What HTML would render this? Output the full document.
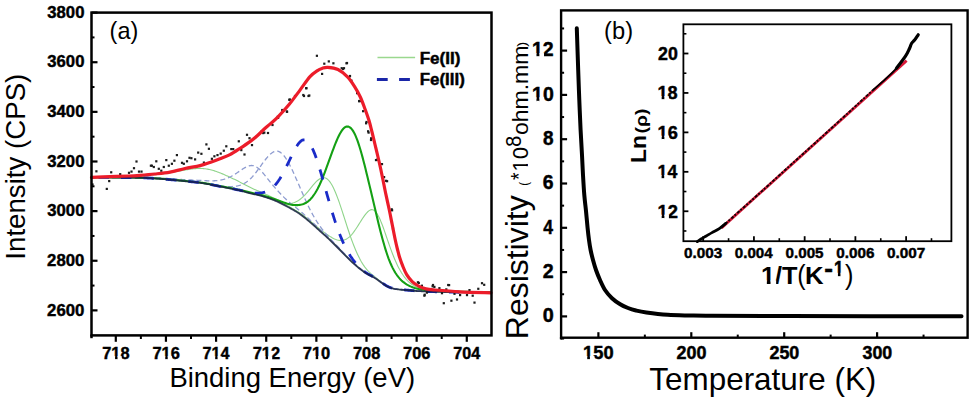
<!DOCTYPE html>
<html><head><meta charset="utf-8"><style>
html,body{margin:0;padding:0;background:#fff;}
svg{display:block;font-family:"Liberation Sans",sans-serif;}
</style></head><body>
<svg width="975" height="399" viewBox="0 0 975 399" font-family="Liberation Sans, sans-serif">
<rect width="975" height="399" fill="#fff"/>
<g fill="none" stroke-linejoin="round">
<path d="M92.50,177.01 L93.50,177.00 L94.50,176.99 L95.50,176.99 L96.50,176.98 L97.50,176.98 L98.50,176.97 L99.50,176.96 L100.50,176.96 L101.50,176.95 L102.50,176.94 L103.50,176.94 L104.50,176.93 L105.50,176.92 L106.50,176.91 L107.50,176.90 L108.50,176.90 L109.50,176.89 L110.50,176.88 L111.50,176.87 L112.50,176.86 L113.50,176.85 L114.50,176.83 L115.50,176.82 L116.50,176.81 L117.50,176.79 L118.50,176.78 L119.50,176.76 L120.50,176.74 L121.50,176.72 L122.50,176.70 L123.50,176.68 L124.50,176.65 L125.50,176.63 L126.50,176.60 L127.50,176.57 L128.50,176.53 L129.50,176.50 L130.50,176.46 L131.50,176.42 L132.50,176.38 L133.50,176.33 L134.50,176.28 L135.50,176.23 L136.50,176.17 L137.50,176.11 L138.50,176.05 L139.50,175.98 L140.50,175.91 L141.50,175.83 L142.50,175.76 L143.50,175.69 L144.50,175.62 L145.50,175.54 L146.50,175.47 L147.50,175.39 L148.50,175.31 L149.50,175.23 L150.50,175.14 L151.50,175.05 L152.50,174.95 L153.50,174.86 L154.50,174.75 L155.50,174.64 L156.50,174.53 L157.50,174.41 L158.50,174.28 L159.50,174.15 L160.50,174.02 L161.50,173.89 L162.50,173.76 L163.50,173.63 L164.50,173.50 L165.50,173.36 L166.50,173.22 L167.50,173.08 L168.50,172.92 L169.50,172.77 L170.50,172.61 L171.50,172.44 L172.50,172.27 L173.50,172.10 L174.50,171.92 L175.50,171.75 L176.50,171.57 L177.50,171.39 L178.50,171.21 L179.50,171.03 L180.50,170.85 L181.50,170.67 L182.50,170.50 L183.50,170.32 L184.50,170.15 L185.50,169.98 L186.50,169.81 L187.50,169.64 L188.50,169.48 L189.50,169.33 L190.50,169.18 L191.50,169.04 L192.50,168.91 L193.50,168.79 L194.50,168.69 L195.50,168.60 L196.50,168.52 L197.50,168.47 L198.50,168.43 L199.50,168.41 L200.50,168.41 L201.50,168.44 L202.50,168.50 L203.50,168.58 L204.50,168.69 L205.50,168.82 L206.50,168.97 L207.50,169.14 L208.50,169.34 L209.50,169.55 L210.50,169.79 L211.50,170.04 L212.50,170.30 L213.50,170.58 L214.50,170.89 L215.50,171.21 L216.50,171.54 L217.50,171.90 L218.50,172.27 L219.50,172.65 L220.50,173.05 L221.50,173.46 L222.50,173.88 L223.50,174.31 L224.50,174.74 L225.50,175.19 L226.50,175.64 L227.50,176.09 L228.50,176.54 L229.50,177.00 L230.50,177.47 L231.50,177.93 L232.50,178.41 L233.50,178.89 L234.50,179.37 L235.50,179.86 L236.50,180.35 L237.50,180.85 L238.50,181.36 L239.50,181.88 L240.50,182.40 L241.50,182.93 L242.50,183.46 L243.50,183.99 L244.50,184.51 L245.50,185.04 L246.50,185.56 L247.50,186.07 L248.50,186.58 L249.50,187.08 L250.50,187.56 L251.50,188.03 L252.50,188.49 L253.50,188.94 L254.50,189.39 L255.50,189.82 L256.50,190.25 L257.50,190.68 L258.50,191.11 L259.50,191.53 L260.50,191.96 L261.50,192.40 L262.50,192.84 L263.50,193.28 L264.50,193.73 L265.50,194.19 L266.50,194.65 L267.50,195.11 L268.50,195.58 L269.50,196.06 L270.50,196.53 L271.50,197.01 L272.50,197.50 L273.50,197.99 L274.50,198.48 L275.50,198.98 L276.50,199.49 L277.50,200.01 L278.50,200.54 L279.50,201.09 L280.50,201.64 L281.50,202.20 L282.50,202.76 L283.50,203.33 L284.50,203.91 L285.50,204.49 L286.50,205.07 L287.50,205.66 L288.50,206.25 L289.50,206.84 L290.50,207.42 L291.50,208.01 L292.50,208.61 L293.50,209.21 L294.50,209.82 L295.50,210.44 L296.50,211.07 L297.50,211.72 L298.50,212.39 L299.50,213.07 L300.50,213.78 L301.50,214.52 L302.50,215.29 L303.50,216.09 L304.50,216.90 L305.50,217.74 L306.50,218.58 L307.50,219.44 L308.50,220.30 L309.50,221.16 L310.50,222.02 L311.50,222.89 L312.50,223.77 L313.50,224.67 L314.50,225.57 L315.50,226.48 L316.50,227.40 L317.50,228.31 L318.50,229.23 L319.50,230.14 L320.50,231.05 L321.50,231.96 L322.50,232.86 L323.50,233.76 L324.50,234.67 L325.50,235.58 L326.50,236.49 L327.50,237.41 L328.50,238.34 L329.50,239.28 L330.50,240.24 L331.50,241.20 L332.50,242.18 L333.50,243.17 L334.50,244.17 L335.50,245.17 L336.50,246.18 L337.50,247.19 L338.50,248.20 L339.50,249.20 L340.50,250.20 L341.50,251.22 L342.50,252.25 L343.50,253.28 L344.50,254.32 L345.50,255.36 L346.50,256.40 L347.50,257.42 L348.50,258.44 L349.50,259.43 L350.50,260.41 L351.50,261.35 L352.50,262.27 L353.50,263.16 L354.50,264.05 L355.50,264.92 L356.50,265.79 L357.50,266.64 L358.50,267.48 L359.50,268.29 L360.50,269.09 L361.50,269.86 L362.50,270.61 L363.50,271.33 L364.50,272.02 L365.50,272.68 L366.50,273.29 L367.50,273.86 L368.50,274.40 L369.50,274.93 L370.50,275.44 L371.50,275.95 L372.50,276.48 L373.50,277.03 L374.50,277.60 L375.50,278.23 L376.50,278.90 L377.50,279.60 L378.50,280.33 L379.50,281.05 L380.50,281.77 L381.50,282.46 L382.50,283.12 L383.50,283.80 L384.50,284.48 L385.50,285.15 L386.50,285.77 L387.50,286.34 L388.50,286.81 L389.50,287.21 L390.50,287.58 L391.50,287.92 L392.50,288.22 L393.50,288.50 L394.50,288.73 L395.50,288.92 L396.50,289.06 L397.50,289.20 L398.50,289.32 L399.50,289.43 L400.50,289.53 L401.50,289.63 L402.50,289.71 L403.50,289.80 L404.50,289.88 L405.50,289.95 L406.50,290.03 L407.50,290.11 L408.50,290.18 L409.50,290.27 L410.50,290.35 L411.50,290.44 L412.50,290.53 L413.50,290.61 L414.50,290.70 L415.50,290.78 L416.50,290.86 L417.50,290.93 L418.50,290.99 L419.50,291.05 L420.50,291.10 L421.50,291.15 L422.50,291.20 L423.50,291.25 L424.50,291.29 L425.50,291.34 L426.50,291.38 L427.50,291.42 L428.50,291.46 L429.50,291.49 L430.50,291.53 L431.50,291.56 L432.50,291.60 L433.50,291.63 L434.50,291.66 L435.50,291.69 L436.50,291.71 L437.50,291.74 L438.50,291.76 L439.50,291.79 L440.50,291.81 L441.50,291.83 L442.50,291.85 L443.50,291.87 L444.50,291.90 L445.50,291.92 L446.50,291.94 L447.50,291.96 L448.50,291.98 L449.50,292.00 L450.50,292.02 L451.50,292.04 L452.50,292.06 L453.50,292.08 L454.50,292.10 L455.50,292.12 L456.50,292.14 L457.50,292.16 L458.50,292.18 L459.50,292.20 L460.50,292.21 L461.50,292.23 L462.50,292.25 L463.50,292.27 L464.50,292.28 L465.50,292.30 L466.50,292.31 L467.50,292.33 L468.50,292.34 L469.50,292.36 L470.50,292.37 L471.50,292.39 L472.50,292.40 L473.50,292.41 L474.50,292.42 L475.50,292.43 L476.50,292.45 L477.50,292.46 L478.50,292.47 L479.50,292.47 L480.50,292.48 L481.50,292.49 L482.50,292.50 L483.50,292.50 L484.50,292.51 L485.50,292.52 L486.50,292.52 L487.50,292.52 L488.50,292.53 L489.50,292.53 L490.50,292.53" stroke="#8fd48a" stroke-width="1.1"/>
<path d="M92.50,177.40 L93.50,177.40 L94.50,177.40 L95.50,177.40 L96.50,177.40 L97.50,177.41 L98.50,177.41 L99.50,177.41 L100.50,177.41 L101.50,177.42 L102.50,177.42 L103.50,177.43 L104.50,177.43 L105.50,177.44 L106.50,177.44 L107.50,177.45 L108.50,177.45 L109.50,177.46 L110.50,177.46 L111.50,177.47 L112.50,177.48 L113.50,177.49 L114.50,177.49 L115.50,177.50 L116.50,177.51 L117.50,177.52 L118.50,177.53 L119.50,177.54 L120.50,177.55 L121.50,177.56 L122.50,177.57 L123.50,177.58 L124.50,177.59 L125.50,177.60 L126.50,177.61 L127.50,177.63 L128.50,177.64 L129.50,177.65 L130.50,177.66 L131.50,177.68 L132.50,177.69 L133.50,177.70 L134.50,177.72 L135.50,177.73 L136.50,177.75 L137.50,177.76 L138.50,177.78 L139.50,177.79 L140.50,177.81 L141.50,177.83 L142.50,177.85 L143.50,177.88 L144.50,177.92 L145.50,177.96 L146.50,178.00 L147.50,178.04 L148.50,178.09 L149.50,178.14 L150.50,178.20 L151.50,178.25 L152.50,178.31 L153.50,178.37 L154.50,178.43 L155.50,178.49 L156.50,178.55 L157.50,178.62 L158.50,178.68 L159.50,178.75 L160.50,178.82 L161.50,178.90 L162.50,178.98 L163.50,179.07 L164.50,179.16 L165.50,179.26 L166.50,179.35 L167.50,179.45 L168.50,179.55 L169.50,179.64 L170.50,179.74 L171.50,179.83 L172.50,179.93 L173.50,180.02 L174.50,180.12 L175.50,180.22 L176.50,180.32 L177.50,180.42 L178.50,180.52 L179.50,180.62 L180.50,180.73 L181.50,180.83 L182.50,180.93 L183.50,181.03 L184.50,181.14 L185.50,181.24 L186.50,181.34 L187.50,181.44 L188.50,181.54 L189.50,181.64 L190.50,181.74 L191.50,181.84 L192.50,181.94 L193.50,182.04 L194.50,182.15 L195.50,182.25 L196.50,182.37 L197.50,182.48 L198.50,182.61 L199.50,182.73 L200.50,182.87 L201.50,183.01 L202.50,183.17 L203.50,183.33 L204.50,183.50 L205.50,183.68 L206.50,183.86 L207.50,184.05 L208.50,184.24 L209.50,184.43 L210.50,184.62 L211.50,184.81 L212.50,185.00 L213.50,185.19 L214.50,185.38 L215.50,185.57 L216.50,185.77 L217.50,185.97 L218.50,186.17 L219.50,186.37 L220.50,186.57 L221.50,186.78 L222.50,186.98 L223.50,187.18 L224.50,187.38 L225.50,187.58 L226.50,187.78 L227.50,187.97 L228.50,188.16 L229.50,188.35 L230.50,188.55 L231.50,188.74 L232.50,188.94 L233.50,189.13 L234.50,189.34 L235.50,189.54 L236.50,189.76 L237.50,189.98 L238.50,190.21 L239.50,190.44 L240.50,190.69 L241.50,190.94 L242.50,191.20 L243.50,191.47 L244.50,191.73 L245.50,192.00 L246.50,192.26 L247.50,192.53 L248.50,192.79 L249.50,193.05 L250.50,193.30 L251.50,193.54 L252.50,193.78 L253.50,194.01 L254.50,194.24 L255.50,194.47 L256.50,194.71 L257.50,194.94 L258.50,195.18 L259.50,195.42 L260.50,195.68 L261.50,195.94 L262.50,196.21 L263.50,196.50 L264.50,196.79 L265.50,197.09 L266.50,197.40 L267.50,197.72 L268.50,198.04 L269.50,198.36 L270.50,198.69 L271.50,199.03 L272.50,199.36 L273.50,199.70 L274.50,200.03 L275.50,200.36 L276.50,200.70 L277.50,201.03 L278.50,201.36 L279.50,201.68 L280.50,201.99 L281.50,202.28 L282.50,202.56 L283.50,202.81 L284.50,203.03 L285.50,203.22 L286.50,203.36 L287.50,203.46 L288.50,203.51 L289.50,203.51 L290.50,203.44 L291.50,203.30 L292.50,203.10 L293.50,202.84 L294.50,202.50 L295.50,202.09 L296.50,201.61 L297.50,201.05 L298.50,200.42 L299.50,199.72 L300.50,198.96 L301.50,198.14 L302.50,197.26 L303.50,196.32 L304.50,195.33 L305.50,194.28 L306.50,193.17 L307.50,192.02 L308.50,190.83 L309.50,189.61 L310.50,188.36 L311.50,187.11 L312.50,185.88 L313.50,184.69 L314.50,183.54 L315.50,182.46 L316.50,181.45 L317.50,180.52 L318.50,179.71 L319.50,179.01 L320.50,178.44 L321.50,178.02 L322.50,177.75 L323.50,177.67 L324.50,177.77 L325.50,178.06 L326.50,178.57 L327.50,179.28 L328.50,180.20 L329.50,181.35 L330.50,182.70 L331.50,184.27 L332.50,186.05 L333.50,188.02 L334.50,190.17 L335.50,192.50 L336.50,194.97 L337.50,197.58 L338.50,200.31 L339.50,203.14 L340.50,206.06 L341.50,209.06 L342.50,212.12 L343.50,215.23 L344.50,218.37 L345.50,221.51 L346.50,224.64 L347.50,227.73 L348.50,230.78 L349.50,233.76 L350.50,236.66 L351.50,239.47 L352.50,242.18 L353.50,244.78 L354.50,247.29 L355.50,249.70 L356.50,252.02 L357.50,254.22 L358.50,256.32 L359.50,258.32 L360.50,260.20 L361.50,261.97 L362.50,263.63 L363.50,265.18 L364.50,266.63 L365.50,267.97 L366.50,269.19 L367.50,270.31 L368.50,271.34 L369.50,272.30 L370.50,273.20 L371.50,274.06 L372.50,274.88 L373.50,275.69 L374.50,276.49 L375.50,277.31 L376.50,278.15 L377.50,279.00 L378.50,279.85 L379.50,280.69 L380.50,281.49 L381.50,282.26 L382.50,282.98 L383.50,283.71 L384.50,284.44 L385.50,285.14 L386.50,285.80 L387.50,286.39 L388.50,286.88 L389.50,287.29 L390.50,287.68 L391.50,288.03 L392.50,288.34 L393.50,288.62 L394.50,288.86 L395.50,289.05 L396.50,289.20 L397.50,289.34 L398.50,289.46 L399.50,289.57 L400.50,289.67 L401.50,289.77 L402.50,289.85 L403.50,289.94 L404.50,290.01 L405.50,290.09 L406.50,290.16 L407.50,290.24 L408.50,290.32 L409.50,290.40 L410.50,290.48 L411.50,290.57 L412.50,290.66 L413.50,290.74 L414.50,290.82 L415.50,290.90 L416.50,290.98 L417.50,291.05 L418.50,291.12 L419.50,291.17 L420.50,291.22 L421.50,291.27 L422.50,291.32 L423.50,291.37 L424.50,291.41 L425.50,291.45 L426.50,291.49 L427.50,291.53 L428.50,291.57 L429.50,291.60 L430.50,291.64 L431.50,291.67 L432.50,291.70 L433.50,291.74 L434.50,291.76 L435.50,291.79 L436.50,291.82 L437.50,291.84 L438.50,291.87 L439.50,291.89 L440.50,291.91 L441.50,291.93 L442.50,291.95 L443.50,291.97 L444.50,291.99 L445.50,292.01 L446.50,292.03 L447.50,292.05 L448.50,292.07 L449.50,292.09 L450.50,292.11 L451.50,292.13 L452.50,292.15 L453.50,292.17 L454.50,292.19 L455.50,292.21 L456.50,292.23 L457.50,292.25 L458.50,292.27 L459.50,292.28 L460.50,292.30 L461.50,292.32 L462.50,292.33 L463.50,292.35 L464.50,292.37 L465.50,292.38 L466.50,292.40 L467.50,292.41 L468.50,292.42 L469.50,292.44 L470.50,292.45 L471.50,292.46 L472.50,292.48 L473.50,292.49 L474.50,292.50 L475.50,292.51 L476.50,292.52 L477.50,292.53 L478.50,292.54 L479.50,292.55 L480.50,292.56 L481.50,292.56 L482.50,292.57 L483.50,292.58 L484.50,292.58 L485.50,292.59 L486.50,292.59 L487.50,292.59 L488.50,292.60 L489.50,292.60 L490.50,292.60" stroke="#8fd48a" stroke-width="1.1"/>
<path d="M92.50,177.34 L93.50,177.34 L94.50,177.34 L95.50,177.34 L96.50,177.34 L97.50,177.34 L98.50,177.34 L99.50,177.34 L100.50,177.35 L101.50,177.35 L102.50,177.35 L103.50,177.36 L104.50,177.36 L105.50,177.37 L106.50,177.37 L107.50,177.37 L108.50,177.38 L109.50,177.39 L110.50,177.39 L111.50,177.40 L112.50,177.40 L113.50,177.41 L114.50,177.42 L115.50,177.43 L116.50,177.43 L117.50,177.44 L118.50,177.45 L119.50,177.46 L120.50,177.47 L121.50,177.48 L122.50,177.49 L123.50,177.50 L124.50,177.51 L125.50,177.52 L126.50,177.53 L127.50,177.54 L128.50,177.55 L129.50,177.57 L130.50,177.58 L131.50,177.59 L132.50,177.60 L133.50,177.62 L134.50,177.63 L135.50,177.64 L136.50,177.66 L137.50,177.67 L138.50,177.69 L139.50,177.70 L140.50,177.72 L141.50,177.74 L142.50,177.76 L143.50,177.79 L144.50,177.82 L145.50,177.86 L146.50,177.90 L147.50,177.94 L148.50,177.99 L149.50,178.04 L150.50,178.09 L151.50,178.15 L152.50,178.21 L153.50,178.26 L154.50,178.32 L155.50,178.38 L156.50,178.45 L157.50,178.51 L158.50,178.57 L159.50,178.64 L160.50,178.71 L161.50,178.79 L162.50,178.87 L163.50,178.96 L164.50,179.05 L165.50,179.14 L166.50,179.24 L167.50,179.33 L168.50,179.43 L169.50,179.52 L170.50,179.62 L171.50,179.71 L172.50,179.80 L173.50,179.90 L174.50,180.00 L175.50,180.09 L176.50,180.19 L177.50,180.29 L178.50,180.39 L179.50,180.49 L180.50,180.59 L181.50,180.69 L182.50,180.79 L183.50,180.90 L184.50,181.00 L185.50,181.10 L186.50,181.20 L187.50,181.30 L188.50,181.39 L189.50,181.49 L190.50,181.59 L191.50,181.69 L192.50,181.78 L193.50,181.89 L194.50,181.99 L195.50,182.10 L196.50,182.21 L197.50,182.32 L198.50,182.44 L199.50,182.57 L200.50,182.70 L201.50,182.84 L202.50,183.00 L203.50,183.16 L204.50,183.33 L205.50,183.50 L206.50,183.68 L207.50,183.87 L208.50,184.06 L209.50,184.24 L210.50,184.43 L211.50,184.62 L212.50,184.81 L213.50,184.99 L214.50,185.18 L215.50,185.37 L216.50,185.57 L217.50,185.76 L218.50,185.96 L219.50,186.16 L220.50,186.36 L221.50,186.56 L222.50,186.76 L223.50,186.96 L224.50,187.16 L225.50,187.35 L226.50,187.54 L227.50,187.74 L228.50,187.92 L229.50,188.11 L230.50,188.30 L231.50,188.49 L232.50,188.68 L233.50,188.88 L234.50,189.08 L235.50,189.28 L236.50,189.49 L237.50,189.71 L238.50,189.93 L239.50,190.17 L240.50,190.41 L241.50,190.66 L242.50,190.91 L243.50,191.17 L244.50,191.43 L245.50,191.70 L246.50,191.96 L247.50,192.22 L248.50,192.47 L249.50,192.73 L250.50,192.97 L251.50,193.21 L252.50,193.44 L253.50,193.67 L254.50,193.90 L255.50,194.12 L256.50,194.35 L257.50,194.58 L258.50,194.82 L259.50,195.06 L260.50,195.31 L261.50,195.57 L262.50,195.84 L263.50,196.13 L264.50,196.42 L265.50,196.73 L266.50,197.05 L267.50,197.37 L268.50,197.71 L269.50,198.05 L270.50,198.41 L271.50,198.77 L272.50,199.14 L273.50,199.52 L274.50,199.92 L275.50,200.32 L276.50,200.73 L277.50,201.16 L278.50,201.61 L279.50,202.06 L280.50,202.53 L281.50,203.02 L282.50,203.51 L283.50,204.01 L284.50,204.52 L285.50,205.03 L286.50,205.56 L287.50,206.08 L288.50,206.61 L289.50,207.14 L290.50,207.68 L291.50,208.21 L292.50,208.76 L293.50,209.31 L294.50,209.87 L295.50,210.44 L296.50,211.03 L297.50,211.63 L298.50,212.25 L299.50,212.89 L300.50,213.56 L301.50,214.25 L302.50,214.98 L303.50,215.73 L304.50,216.50 L305.50,217.29 L306.50,218.09 L307.50,218.90 L308.50,219.71 L309.50,220.52 L310.50,221.33 L311.50,222.15 L312.50,222.97 L313.50,223.81 L314.50,224.65 L315.50,225.49 L316.50,226.33 L317.50,227.17 L318.50,228.00 L319.50,228.81 L320.50,229.62 L321.50,230.41 L322.50,231.18 L323.50,231.94 L324.50,232.68 L325.50,233.40 L326.50,234.11 L327.50,234.80 L328.50,235.47 L329.50,236.12 L330.50,236.75 L331.50,237.34 L332.50,237.91 L333.50,238.44 L334.50,238.92 L335.50,239.35 L336.50,239.71 L337.50,240.01 L338.50,240.24 L339.50,240.38 L340.50,240.44 L341.50,240.42 L342.50,240.32 L343.50,240.13 L344.50,239.85 L345.50,239.47 L346.50,238.98 L347.50,238.37 L348.50,237.66 L349.50,236.82 L350.50,235.87 L351.50,234.79 L352.50,233.60 L353.50,232.31 L354.50,230.93 L355.50,229.50 L356.50,228.00 L357.50,226.46 L358.50,224.88 L359.50,223.29 L360.50,221.69 L361.50,220.11 L362.50,218.57 L363.50,217.07 L364.50,215.65 L365.50,214.33 L366.50,213.11 L367.50,212.02 L368.50,211.10 L369.50,210.38 L370.50,209.89 L371.50,209.64 L372.50,209.68 L373.50,210.01 L374.50,210.64 L375.50,211.60 L376.50,212.87 L377.50,214.44 L378.50,216.27 L379.50,218.33 L380.50,220.59 L381.50,223.01 L382.50,225.56 L383.50,228.28 L384.50,231.12 L385.50,234.03 L386.50,236.97 L387.50,239.90 L388.50,242.78 L389.50,245.58 L390.50,248.35 L391.50,251.07 L392.50,253.71 L393.50,256.27 L394.50,258.73 L395.50,261.06 L396.50,263.28 L397.50,265.39 L398.50,267.39 L399.50,269.29 L400.50,271.07 L401.50,272.74 L402.50,274.31 L403.50,275.76 L404.50,277.12 L405.50,278.37 L406.50,279.53 L407.50,280.59 L408.50,281.58 L409.50,282.48 L410.50,283.31 L411.50,284.07 L412.50,284.76 L413.50,285.39 L414.50,285.96 L415.50,286.48 L416.50,286.94 L417.50,287.36 L418.50,287.73 L419.50,288.06 L420.50,288.35 L421.50,288.62 L422.50,288.85 L423.50,289.06 L424.50,289.26 L425.50,289.43 L426.50,289.59 L427.50,289.73 L428.50,289.86 L429.50,289.98 L430.50,290.09 L431.50,290.19 L432.50,290.29 L433.50,290.37 L434.50,290.46 L435.50,290.53 L436.50,290.60 L437.50,290.67 L438.50,290.73 L439.50,290.79 L440.50,290.84 L441.50,290.89 L442.50,290.94 L443.50,290.99 L444.50,291.04 L445.50,291.09 L446.50,291.13 L447.50,291.17 L448.50,291.22 L449.50,291.26 L450.50,291.30 L451.50,291.34 L452.50,291.38 L453.50,291.41 L454.50,291.45 L455.50,291.49 L456.50,291.52 L457.50,291.56 L458.50,291.59 L459.50,291.62 L460.50,291.65 L461.50,291.68 L462.50,291.71 L463.50,291.74 L464.50,291.77 L465.50,291.80 L466.50,291.83 L467.50,291.85 L468.50,291.88 L469.50,291.90 L470.50,291.93 L471.50,291.95 L472.50,291.97 L473.50,291.99 L474.50,292.02 L475.50,292.04 L476.50,292.05 L477.50,292.07 L478.50,292.09 L479.50,292.11 L480.50,292.12 L481.50,292.14 L482.50,292.15 L483.50,292.17 L484.50,292.18 L485.50,292.19 L486.50,292.20 L487.50,292.21 L488.50,292.22 L489.50,292.23 L490.50,292.24" stroke="#8fd48a" stroke-width="1.1"/>
<path d="M92.50,177.34 L93.50,177.34 L94.50,177.34 L95.50,177.34 L96.50,177.35 L97.50,177.35 L98.50,177.35 L99.50,177.35 L100.50,177.35 L101.50,177.36 L102.50,177.36 L103.50,177.36 L104.50,177.37 L105.50,177.37 L106.50,177.38 L107.50,177.38 L108.50,177.38 L109.50,177.39 L110.50,177.40 L111.50,177.40 L112.50,177.41 L113.50,177.42 L114.50,177.42 L115.50,177.43 L116.50,177.44 L117.50,177.45 L118.50,177.45 L119.50,177.46 L120.50,177.47 L121.50,177.48 L122.50,177.49 L123.50,177.50 L124.50,177.51 L125.50,177.52 L126.50,177.53 L127.50,177.54 L128.50,177.55 L129.50,177.56 L130.50,177.58 L131.50,177.59 L132.50,177.60 L133.50,177.61 L134.50,177.62 L135.50,177.64 L136.50,177.65 L137.50,177.66 L138.50,177.68 L139.50,177.69 L140.50,177.71 L141.50,177.73 L142.50,177.75 L143.50,177.78 L144.50,177.81 L145.50,177.85 L146.50,177.89 L147.50,177.93 L148.50,177.98 L149.50,178.03 L150.50,178.08 L151.50,178.13 L152.50,178.19 L153.50,178.25 L154.50,178.30 L155.50,178.36 L156.50,178.43 L157.50,178.49 L158.50,178.55 L159.50,178.61 L160.50,178.68 L161.50,178.76 L162.50,178.84 L163.50,178.93 L164.50,179.02 L165.50,179.11 L166.50,179.20 L167.50,179.30 L168.50,179.39 L169.50,179.48 L170.50,179.58 L171.50,179.67 L172.50,179.76 L173.50,179.85 L174.50,179.95 L175.50,180.04 L176.50,180.14 L177.50,180.24 L178.50,180.33 L179.50,180.43 L180.50,180.53 L181.50,180.63 L182.50,180.73 L183.50,180.83 L184.50,180.93 L185.50,181.03 L186.50,181.12 L187.50,181.22 L188.50,181.31 L189.50,181.41 L190.50,181.50 L191.50,181.59 L192.50,181.69 L193.50,181.78 L194.50,181.88 L195.50,181.99 L196.50,182.09 L197.50,182.20 L198.50,182.32 L199.50,182.44 L200.50,182.57 L201.50,182.70 L202.50,182.85 L203.50,183.00 L204.50,183.17 L205.50,183.33 L206.50,183.50 L207.50,183.68 L208.50,183.85 L209.50,184.03 L210.50,184.20 L211.50,184.38 L212.50,184.54 L213.50,184.71 L214.50,184.88 L215.50,185.04 L216.50,185.21 L217.50,185.37 L218.50,185.53 L219.50,185.68 L220.50,185.83 L221.50,185.97 L222.50,186.10 L223.50,186.22 L224.50,186.33 L225.50,186.43 L226.50,186.50 L227.50,186.56 L228.50,186.60 L229.50,186.62 L230.50,186.62 L231.50,186.60 L232.50,186.55 L233.50,186.47 L234.50,186.37 L235.50,186.23 L236.50,186.06 L237.50,185.86 L238.50,185.62 L239.50,185.35 L240.50,185.03 L241.50,184.67 L242.50,184.25 L243.50,183.78 L244.50,183.26 L245.50,182.67 L246.50,182.02 L247.50,181.30 L248.50,180.51 L249.50,179.65 L250.50,178.72 L251.50,177.72 L252.50,176.65 L253.50,175.51 L254.50,174.31 L255.50,173.06 L256.50,171.77 L257.50,170.43 L258.50,169.07 L259.50,167.68 L260.50,166.28 L261.50,164.88 L262.50,163.49 L263.50,162.12 L264.50,160.78 L265.50,159.48 L266.50,158.23 L267.50,157.05 L268.50,155.94 L269.50,154.91 L270.50,153.99 L271.50,153.18 L272.50,152.49 L273.50,151.93 L274.50,151.51 L275.50,151.24 L276.50,151.13 L277.50,151.19 L278.50,151.42 L279.50,151.83 L280.50,152.41 L281.50,153.16 L282.50,154.07 L283.50,155.15 L284.50,156.38 L285.50,157.76 L286.50,159.27 L287.50,160.91 L288.50,162.66 L289.50,164.51 L290.50,166.46 L291.50,168.48 L292.50,170.57 L293.50,172.72 L294.50,174.91 L295.50,177.15 L296.50,179.42 L297.50,181.72 L298.50,184.03 L299.50,186.34 L300.50,188.66 L301.50,190.98 L302.50,193.30 L303.50,195.59 L304.50,197.86 L305.50,200.10 L306.50,202.29 L307.50,204.42 L308.50,206.50 L309.50,208.52 L310.50,210.47 L311.50,212.36 L312.50,214.21 L313.50,215.99 L314.50,217.73 L315.50,219.41 L316.50,221.03 L317.50,222.60 L318.50,224.11 L319.50,225.57 L320.50,226.98 L321.50,228.33 L322.50,229.64 L323.50,230.91 L324.50,232.15 L325.50,233.35 L326.50,234.52 L327.50,235.68 L328.50,236.82 L329.50,237.94 L330.50,239.06 L331.50,240.17 L332.50,241.27 L333.50,242.37 L334.50,243.46 L335.50,244.55 L336.50,245.63 L337.50,246.70 L338.50,247.77 L339.50,248.82 L340.50,249.86 L341.50,250.92 L342.50,251.97 L343.50,253.04 L344.50,254.10 L345.50,255.16 L346.50,256.22 L347.50,257.26 L348.50,258.29 L349.50,259.30 L350.50,260.28 L351.50,261.24 L352.50,262.16 L353.50,263.06 L354.50,263.95 L355.50,264.84 L356.50,265.71 L357.50,266.57 L358.50,267.41 L359.50,268.23 L360.50,269.03 L361.50,269.81 L362.50,270.56 L363.50,271.28 L364.50,271.98 L365.50,272.64 L366.50,273.25 L367.50,273.83 L368.50,274.37 L369.50,274.90 L370.50,275.41 L371.50,275.93 L372.50,276.46 L373.50,277.00 L374.50,277.59 L375.50,278.21 L376.50,278.88 L377.50,279.59 L378.50,280.32 L379.50,281.05 L380.50,281.76 L381.50,282.45 L382.50,283.12 L383.50,283.80 L384.50,284.48 L385.50,285.15 L386.50,285.77 L387.50,286.34 L388.50,286.82 L389.50,287.21 L390.50,287.58 L391.50,287.92 L392.50,288.23 L393.50,288.51 L394.50,288.74 L395.50,288.93 L396.50,289.08 L397.50,289.21 L398.50,289.33 L399.50,289.44 L400.50,289.55 L401.50,289.64 L402.50,289.73 L403.50,289.81 L404.50,289.89 L405.50,289.97 L406.50,290.05 L407.50,290.12 L408.50,290.20 L409.50,290.29 L410.50,290.37 L411.50,290.46 L412.50,290.55 L413.50,290.63 L414.50,290.72 L415.50,290.80 L416.50,290.88 L417.50,290.95 L418.50,291.02 L419.50,291.07 L420.50,291.13 L421.50,291.18 L422.50,291.22 L423.50,291.27 L424.50,291.32 L425.50,291.36 L426.50,291.40 L427.50,291.44 L428.50,291.48 L429.50,291.52 L430.50,291.55 L431.50,291.59 L432.50,291.62 L433.50,291.65 L434.50,291.68 L435.50,291.71 L436.50,291.74 L437.50,291.77 L438.50,291.79 L439.50,291.81 L440.50,291.83 L441.50,291.86 L442.50,291.88 L443.50,291.90 L444.50,291.92 L445.50,291.94 L446.50,291.96 L447.50,291.99 L448.50,292.01 L449.50,292.03 L450.50,292.05 L451.50,292.07 L452.50,292.09 L453.50,292.11 L454.50,292.13 L455.50,292.15 L456.50,292.17 L457.50,292.19 L458.50,292.20 L459.50,292.22 L460.50,292.24 L461.50,292.26 L462.50,292.27 L463.50,292.29 L464.50,292.31 L465.50,292.32 L466.50,292.34 L467.50,292.35 L468.50,292.37 L469.50,292.38 L470.50,292.40 L471.50,292.41 L472.50,292.42 L473.50,292.44 L474.50,292.45 L475.50,292.46 L476.50,292.47 L477.50,292.48 L478.50,292.49 L479.50,292.50 L480.50,292.51 L481.50,292.52 L482.50,292.52 L483.50,292.53 L484.50,292.53 L485.50,292.54 L486.50,292.54 L487.50,292.55 L488.50,292.55 L489.50,292.55 L490.50,292.56" stroke="#8e9cd0" stroke-width="1.3" stroke-dasharray="5 3"/>
<path d="M92.50,177.11 L93.50,177.11 L94.50,177.10 L95.50,177.10 L96.50,177.10 L97.50,177.10 L98.50,177.10 L99.50,177.10 L100.50,177.09 L101.50,177.09 L102.50,177.09 L103.50,177.09 L104.50,177.09 L105.50,177.09 L106.50,177.09 L107.50,177.09 L108.50,177.10 L109.50,177.10 L110.50,177.10 L111.50,177.10 L112.50,177.10 L113.50,177.10 L114.50,177.11 L115.50,177.11 L116.50,177.11 L117.50,177.12 L118.50,177.12 L119.50,177.12 L120.50,177.13 L121.50,177.13 L122.50,177.13 L123.50,177.14 L124.50,177.14 L125.50,177.15 L126.50,177.15 L127.50,177.16 L128.50,177.16 L129.50,177.17 L130.50,177.17 L131.50,177.18 L132.50,177.18 L133.50,177.19 L134.50,177.19 L135.50,177.20 L136.50,177.20 L137.50,177.21 L138.50,177.22 L139.50,177.22 L140.50,177.23 L141.50,177.24 L142.50,177.25 L143.50,177.27 L144.50,177.30 L145.50,177.32 L146.50,177.35 L147.50,177.39 L148.50,177.42 L149.50,177.46 L150.50,177.50 L151.50,177.54 L152.50,177.59 L153.50,177.63 L154.50,177.68 L155.50,177.73 L156.50,177.77 L157.50,177.82 L158.50,177.87 L159.50,177.92 L160.50,177.97 L161.50,178.04 L162.50,178.10 L163.50,178.17 L164.50,178.24 L165.50,178.32 L166.50,178.39 L167.50,178.47 L168.50,178.55 L169.50,178.62 L170.50,178.69 L171.50,178.76 L172.50,178.83 L173.50,178.90 L174.50,178.97 L175.50,179.04 L176.50,179.11 L177.50,179.18 L178.50,179.25 L179.50,179.32 L180.50,179.39 L181.50,179.46 L182.50,179.53 L183.50,179.59 L184.50,179.65 L185.50,179.72 L186.50,179.78 L187.50,179.83 L188.50,179.88 L189.50,179.93 L190.50,179.98 L191.50,180.02 L192.50,180.07 L193.50,180.11 L194.50,180.16 L195.50,180.20 L196.50,180.24 L197.50,180.28 L198.50,180.33 L199.50,180.37 L200.50,180.42 L201.50,180.47 L202.50,180.53 L203.50,180.58 L204.50,180.64 L205.50,180.69 L206.50,180.75 L207.50,180.79 L208.50,180.83 L209.50,180.85 L210.50,180.87 L211.50,180.87 L212.50,180.85 L213.50,180.82 L214.50,180.77 L215.50,180.71 L216.50,180.63 L217.50,180.53 L218.50,180.41 L219.50,180.27 L220.50,180.10 L221.50,179.90 L222.50,179.68 L223.50,179.43 L224.50,179.15 L225.50,178.83 L226.50,178.48 L227.50,178.10 L228.50,177.68 L229.50,177.22 L230.50,176.73 L231.50,176.21 L232.50,175.66 L233.50,175.08 L234.50,174.47 L235.50,173.84 L236.50,173.19 L237.50,172.52 L238.50,171.85 L239.50,171.17 L240.50,170.49 L241.50,169.81 L242.50,169.15 L243.50,168.52 L244.50,167.91 L245.50,167.35 L246.50,166.84 L247.50,166.40 L248.50,166.04 L249.50,165.76 L250.50,165.58 L251.50,165.51 L252.50,165.56 L253.50,165.73 L254.50,166.03 L255.50,166.46 L256.50,167.01 L257.50,167.67 L258.50,168.45 L259.50,169.33 L260.50,170.29 L261.50,171.34 L262.50,172.45 L263.50,173.61 L264.50,174.81 L265.50,176.05 L266.50,177.30 L267.50,178.56 L268.50,179.82 L269.50,181.08 L270.50,182.33 L271.50,183.56 L272.50,184.78 L273.50,185.98 L274.50,187.16 L275.50,188.32 L276.50,189.46 L277.50,190.58 L278.50,191.68 L279.50,192.76 L280.50,193.82 L281.50,194.86 L282.50,195.88 L283.50,196.87 L284.50,197.85 L285.50,198.80 L286.50,199.73 L287.50,200.64 L288.50,201.53 L289.50,202.39 L290.50,203.24 L291.50,204.07 L292.50,204.89 L293.50,205.69 L294.50,206.49 L295.50,207.29 L296.50,208.08 L297.50,208.88 L298.50,209.69 L299.50,210.50 L300.50,211.33 L301.50,212.18 L302.50,213.06 L303.50,213.95 L304.50,214.86 L305.50,215.77 L306.50,216.70 L307.50,217.63 L308.50,218.56 L309.50,219.48 L310.50,220.40 L311.50,221.33 L312.50,222.27 L313.50,223.21 L314.50,224.17 L315.50,225.12 L316.50,226.08 L317.50,227.04 L318.50,228.00 L319.50,228.95 L320.50,229.89 L321.50,230.83 L322.50,231.77 L323.50,232.71 L324.50,233.64 L325.50,234.58 L326.50,235.53 L327.50,236.47 L328.50,237.43 L329.50,238.40 L330.50,239.37 L331.50,240.36 L332.50,241.37 L333.50,242.38 L334.50,243.40 L335.50,244.42 L336.50,245.45 L337.50,246.47 L338.50,247.50 L339.50,248.52 L340.50,249.54 L341.50,250.57 L342.50,251.62 L343.50,252.67 L344.50,253.72 L345.50,254.78 L346.50,255.83 L347.50,256.87 L348.50,257.89 L349.50,258.90 L350.50,259.89 L351.50,260.85 L352.50,261.77 L353.50,262.68 L354.50,263.57 L355.50,264.46 L356.50,265.33 L357.50,266.19 L358.50,267.04 L359.50,267.87 L360.50,268.67 L361.50,269.45 L362.50,270.21 L363.50,270.94 L364.50,271.64 L365.50,272.30 L366.50,272.92 L367.50,273.50 L368.50,274.05 L369.50,274.58 L370.50,275.10 L371.50,275.62 L372.50,276.15 L373.50,276.70 L374.50,277.29 L375.50,277.92 L376.50,278.59 L377.50,279.30 L378.50,280.03 L379.50,280.77 L380.50,281.49 L381.50,282.18 L382.50,282.85 L383.50,283.53 L384.50,284.22 L385.50,284.89 L386.50,285.52 L387.50,286.09 L388.50,286.57 L389.50,286.97 L390.50,287.34 L391.50,287.68 L392.50,288.00 L393.50,288.27 L394.50,288.51 L395.50,288.70 L396.50,288.85 L397.50,288.99 L398.50,289.11 L399.50,289.23 L400.50,289.33 L401.50,289.43 L402.50,289.52 L403.50,289.60 L404.50,289.69 L405.50,289.77 L406.50,289.84 L407.50,289.92 L408.50,290.01 L409.50,290.09 L410.50,290.18 L411.50,290.27 L412.50,290.36 L413.50,290.45 L414.50,290.53 L415.50,290.62 L416.50,290.70 L417.50,290.77 L418.50,290.84 L419.50,290.90 L420.50,290.95 L421.50,291.01 L422.50,291.06 L423.50,291.10 L424.50,291.15 L425.50,291.20 L426.50,291.24 L427.50,291.28 L428.50,291.32 L429.50,291.36 L430.50,291.40 L431.50,291.43 L432.50,291.47 L433.50,291.50 L434.50,291.53 L435.50,291.56 L436.50,291.59 L437.50,291.62 L438.50,291.65 L439.50,291.67 L440.50,291.69 L441.50,291.72 L442.50,291.74 L443.50,291.76 L444.50,291.79 L445.50,291.81 L446.50,291.83 L447.50,291.85 L448.50,291.88 L449.50,291.90 L450.50,291.92 L451.50,291.94 L452.50,291.96 L453.50,291.98 L454.50,292.00 L455.50,292.03 L456.50,292.05 L457.50,292.07 L458.50,292.09 L459.50,292.10 L460.50,292.12 L461.50,292.14 L462.50,292.16 L463.50,292.18 L464.50,292.20 L465.50,292.21 L466.50,292.23 L467.50,292.25 L468.50,292.26 L469.50,292.28 L470.50,292.29 L471.50,292.31 L472.50,292.32 L473.50,292.33 L474.50,292.35 L475.50,292.36 L476.50,292.37 L477.50,292.38 L478.50,292.39 L479.50,292.40 L480.50,292.41 L481.50,292.42 L482.50,292.43 L483.50,292.43 L484.50,292.44 L485.50,292.45 L486.50,292.45 L487.50,292.46 L488.50,292.46 L489.50,292.46 L490.50,292.46" stroke="#8e9cd0" stroke-width="1.3" stroke-dasharray="5 3"/>
<path d="M92.50,177.29 L93.50,177.29 L94.50,177.29 L95.50,177.29 L96.50,177.29 L97.50,177.29 L98.50,177.30 L99.50,177.30 L100.50,177.30 L101.50,177.30 L102.50,177.31 L103.50,177.31 L104.50,177.31 L105.50,177.32 L106.50,177.32 L107.50,177.32 L108.50,177.33 L109.50,177.33 L110.50,177.34 L111.50,177.35 L112.50,177.35 L113.50,177.36 L114.50,177.37 L115.50,177.37 L116.50,177.38 L117.50,177.39 L118.50,177.40 L119.50,177.40 L120.50,177.41 L121.50,177.42 L122.50,177.43 L123.50,177.44 L124.50,177.45 L125.50,177.46 L126.50,177.47 L127.50,177.48 L128.50,177.49 L129.50,177.50 L130.50,177.52 L131.50,177.53 L132.50,177.54 L133.50,177.55 L134.50,177.56 L135.50,177.58 L136.50,177.59 L137.50,177.60 L138.50,177.62 L139.50,177.63 L140.50,177.65 L141.50,177.67 L142.50,177.69 L143.50,177.72 L144.50,177.75 L145.50,177.79 L146.50,177.83 L147.50,177.87 L148.50,177.92 L149.50,177.97 L150.50,178.02 L151.50,178.07 L152.50,178.13 L153.50,178.18 L154.50,178.24 L155.50,178.30 L156.50,178.36 L157.50,178.43 L158.50,178.49 L159.50,178.55 L160.50,178.62 L161.50,178.70 L162.50,178.78 L163.50,178.87 L164.50,178.96 L165.50,179.05 L166.50,179.14 L167.50,179.24 L168.50,179.33 L169.50,179.43 L170.50,179.52 L171.50,179.61 L172.50,179.70 L173.50,179.80 L174.50,179.89 L175.50,179.99 L176.50,180.09 L177.50,180.18 L178.50,180.28 L179.50,180.38 L180.50,180.48 L181.50,180.58 L182.50,180.68 L183.50,180.78 L184.50,180.88 L185.50,180.98 L186.50,181.08 L187.50,181.18 L188.50,181.27 L189.50,181.37 L190.50,181.46 L191.50,181.56 L192.50,181.65 L193.50,181.75 L194.50,181.86 L195.50,181.96 L196.50,182.07 L197.50,182.18 L198.50,182.30 L199.50,182.42 L200.50,182.56 L201.50,182.70 L202.50,182.85 L203.50,183.01 L204.50,183.17 L205.50,183.35 L206.50,183.53 L207.50,183.71 L208.50,183.89 L209.50,184.08 L210.50,184.26 L211.50,184.45 L212.50,184.63 L213.50,184.82 L214.50,185.00 L215.50,185.19 L216.50,185.38 L217.50,185.57 L218.50,185.77 L219.50,185.96 L220.50,186.16 L221.50,186.36 L222.50,186.55 L223.50,186.75 L224.50,186.94 L225.50,187.13 L226.50,187.32 L227.50,187.51 L228.50,187.70 L229.50,187.88 L230.50,188.06 L231.50,188.25 L232.50,188.44 L233.50,188.63 L234.50,188.82 L235.50,189.02 L236.50,189.23 L237.50,189.44 L238.50,189.66 L239.50,189.89 L240.50,190.12 L241.50,190.37 L242.50,190.61 L243.50,190.87 L244.50,191.12 L245.50,191.38 L246.50,191.63 L247.50,191.88 L248.50,192.13 L249.50,192.38 L250.50,192.62 L251.50,192.85 L252.50,193.07 L253.50,193.29 L254.50,193.51 L255.50,193.73 L256.50,193.94 L257.50,194.16 L258.50,194.39 L259.50,194.61 L260.50,194.85 L261.50,195.10 L262.50,195.36 L263.50,195.63 L264.50,195.91 L265.50,196.19 L266.50,196.49 L267.50,196.79 L268.50,197.10 L269.50,197.42 L270.50,197.74 L271.50,198.07 L272.50,198.41 L273.50,198.75 L274.50,199.09 L275.50,199.44 L276.50,199.79 L277.50,200.16 L278.50,200.53 L279.50,200.90 L280.50,201.28 L281.50,201.65 L282.50,202.02 L283.50,202.39 L284.50,202.74 L285.50,203.08 L286.50,203.41 L287.50,203.72 L288.50,204.00 L289.50,204.26 L290.50,204.49 L291.50,204.68 L292.50,204.85 L293.50,204.98 L294.50,205.07 L295.50,205.12 L296.50,205.14 L297.50,205.11 L298.50,205.03 L299.50,204.91 L300.50,204.74 L301.50,204.52 L302.50,204.25 L303.50,203.92 L304.50,203.52 L305.50,203.04 L306.50,202.47 L307.50,201.80 L308.50,201.03 L309.50,200.14 L310.50,199.14 L311.50,198.02 L312.50,196.80 L313.50,195.47 L314.50,194.01 L315.50,192.44 L316.50,190.75 L317.50,188.94 L318.50,187.00 L319.50,184.95 L320.50,182.77 L321.50,180.49 L322.50,178.10 L323.50,175.62 L324.50,173.05 L325.50,170.41 L326.50,167.72 L327.50,164.98 L328.50,162.21 L329.50,159.43 L330.50,156.65 L331.50,153.90 L332.50,151.18 L333.50,148.51 L334.50,145.91 L335.50,143.40 L336.50,140.99 L337.50,138.70 L338.50,136.54 L339.50,134.54 L340.50,132.72 L341.50,131.09 L342.50,129.70 L343.50,128.54 L344.50,127.63 L345.50,126.98 L346.50,126.60 L347.50,126.49 L348.50,126.66 L349.50,127.11 L350.50,127.84 L351.50,128.85 L352.50,130.13 L353.50,131.69 L354.50,133.54 L355.50,135.66 L356.50,138.06 L357.50,140.71 L358.50,143.59 L359.50,146.70 L360.50,150.01 L361.50,153.49 L362.50,157.14 L363.50,160.93 L364.50,164.84 L365.50,168.84 L366.50,172.91 L367.50,177.02 L368.50,181.18 L369.50,185.37 L370.50,189.59 L371.50,193.82 L372.50,198.07 L373.50,202.32 L374.50,206.58 L375.50,210.83 L376.50,215.08 L377.50,219.29 L378.50,223.44 L379.50,227.50 L380.50,231.46 L381.50,235.28 L382.50,238.97 L383.50,242.56 L384.50,246.03 L385.50,249.36 L386.50,252.53 L387.50,255.50 L388.50,258.27 L389.50,260.83 L390.50,263.24 L391.50,265.50 L392.50,267.61 L393.50,269.56 L394.50,271.36 L395.50,273.01 L396.50,274.51 L397.50,275.90 L398.50,277.18 L399.50,278.36 L400.50,279.45 L401.50,280.44 L402.50,281.35 L403.50,282.19 L404.50,282.95 L405.50,283.66 L406.50,284.30 L407.50,284.89 L408.50,285.43 L409.50,285.94 L410.50,286.40 L411.50,286.83 L412.50,287.22 L413.50,287.58 L414.50,287.91 L415.50,288.21 L416.50,288.49 L417.50,288.74 L418.50,288.96 L419.50,289.16 L420.50,289.34 L421.50,289.50 L422.50,289.65 L423.50,289.79 L424.50,289.91 L425.50,290.03 L426.50,290.13 L427.50,290.23 L428.50,290.33 L429.50,290.41 L430.50,290.49 L431.50,290.57 L432.50,290.63 L433.50,290.70 L434.50,290.76 L435.50,290.82 L436.50,290.87 L437.50,290.92 L438.50,290.97 L439.50,291.01 L440.50,291.06 L441.50,291.10 L442.50,291.14 L443.50,291.18 L444.50,291.21 L445.50,291.25 L446.50,291.29 L447.50,291.32 L448.50,291.36 L449.50,291.39 L450.50,291.43 L451.50,291.46 L452.50,291.49 L453.50,291.52 L454.50,291.55 L455.50,291.58 L456.50,291.61 L457.50,291.64 L458.50,291.67 L459.50,291.70 L460.50,291.73 L461.50,291.75 L462.50,291.78 L463.50,291.80 L464.50,291.83 L465.50,291.85 L466.50,291.88 L467.50,291.90 L468.50,291.92 L469.50,291.94 L470.50,291.97 L471.50,291.99 L472.50,292.01 L473.50,292.03 L474.50,292.04 L475.50,292.06 L476.50,292.08 L477.50,292.10 L478.50,292.11 L479.50,292.13 L480.50,292.14 L481.50,292.15 L482.50,292.17 L483.50,292.18 L484.50,292.19 L485.50,292.20 L486.50,292.21 L487.50,292.22 L488.50,292.23 L489.50,292.23 L490.50,292.24" stroke="#14a014" stroke-width="2.1"/>
<path d="M92.50,177.38 L93.50,177.38 L94.50,177.38 L95.50,177.38 L96.50,177.39 L97.50,177.39 L98.50,177.39 L99.50,177.39 L100.50,177.40 L101.50,177.40 L102.50,177.40 L103.50,177.41 L104.50,177.41 L105.50,177.42 L106.50,177.42 L107.50,177.43 L108.50,177.43 L109.50,177.44 L110.50,177.44 L111.50,177.45 L112.50,177.46 L113.50,177.46 L114.50,177.47 L115.50,177.48 L116.50,177.49 L117.50,177.50 L118.50,177.51 L119.50,177.52 L120.50,177.52 L121.50,177.53 L122.50,177.54 L123.50,177.56 L124.50,177.57 L125.50,177.58 L126.50,177.59 L127.50,177.60 L128.50,177.61 L129.50,177.62 L130.50,177.64 L131.50,177.65 L132.50,177.66 L133.50,177.68 L134.50,177.69 L135.50,177.70 L136.50,177.72 L137.50,177.73 L138.50,177.75 L139.50,177.76 L140.50,177.78 L141.50,177.80 L142.50,177.82 L143.50,177.85 L144.50,177.89 L145.50,177.93 L146.50,177.97 L147.50,178.01 L148.50,178.06 L149.50,178.11 L150.50,178.16 L151.50,178.22 L152.50,178.27 L153.50,178.33 L154.50,178.39 L155.50,178.46 L156.50,178.52 L157.50,178.58 L158.50,178.64 L159.50,178.71 L160.50,178.78 L161.50,178.86 L162.50,178.94 L163.50,179.03 L164.50,179.12 L165.50,179.22 L166.50,179.31 L167.50,179.41 L168.50,179.51 L169.50,179.60 L170.50,179.69 L171.50,179.79 L172.50,179.88 L173.50,179.98 L174.50,180.08 L175.50,180.17 L176.50,180.27 L177.50,180.37 L178.50,180.47 L179.50,180.57 L180.50,180.68 L181.50,180.78 L182.50,180.88 L183.50,180.98 L184.50,181.08 L185.50,181.19 L186.50,181.29 L187.50,181.39 L188.50,181.48 L189.50,181.58 L190.50,181.68 L191.50,181.78 L192.50,181.88 L193.50,181.98 L194.50,182.08 L195.50,182.19 L196.50,182.30 L197.50,182.42 L198.50,182.54 L199.50,182.66 L200.50,182.80 L201.50,182.94 L202.50,183.10 L203.50,183.26 L204.50,183.43 L205.50,183.60 L206.50,183.79 L207.50,183.97 L208.50,184.16 L209.50,184.35 L210.50,184.54 L211.50,184.73 L212.50,184.91 L213.50,185.10 L214.50,185.29 L215.50,185.48 L216.50,185.67 L217.50,185.87 L218.50,186.07 L219.50,186.27 L220.50,186.47 L221.50,186.67 L222.50,186.87 L223.50,187.07 L224.50,187.26 L225.50,187.46 L226.50,187.65 L227.50,187.84 L228.50,188.03 L229.50,188.22 L230.50,188.41 L231.50,188.60 L232.50,188.79 L233.50,188.98 L234.50,189.17 L235.50,189.37 L236.50,189.58 L237.50,189.79 L238.50,190.00 L239.50,190.22 L240.50,190.45 L241.50,190.69 L242.50,190.92 L243.50,191.16 L244.50,191.39 L245.50,191.62 L246.50,191.84 L247.50,192.05 L248.50,192.25 L249.50,192.43 L250.50,192.60 L251.50,192.74 L252.50,192.87 L253.50,192.97 L254.50,193.04 L255.50,193.10 L256.50,193.12 L257.50,193.13 L258.50,193.10 L259.50,193.04 L260.50,192.95 L261.50,192.83 L262.50,192.66 L263.50,192.46 L264.50,192.21 L265.50,191.90 L266.50,191.53 L267.50,191.09 L268.50,190.59 L269.50,190.01 L270.50,189.35 L271.50,188.61 L272.50,187.77 L273.50,186.85 L274.50,185.82 L275.50,184.70 L276.50,183.49 L277.50,182.18 L278.50,180.78 L279.50,179.29 L280.50,177.70 L281.50,176.03 L282.50,174.27 L283.50,172.43 L284.50,170.52 L285.50,168.55 L286.50,166.52 L287.50,164.45 L288.50,162.36 L289.50,160.24 L290.50,158.13 L291.50,156.03 L292.50,153.97 L293.50,151.97 L294.50,150.05 L295.50,148.24 L296.50,146.54 L297.50,144.99 L298.50,143.60 L299.50,142.40 L300.50,141.40 L301.50,140.63 L302.50,140.09 L303.50,139.81 L304.50,139.78 L305.50,140.01 L306.50,140.49 L307.50,141.24 L308.50,142.24 L309.50,143.49 L310.50,144.98 L311.50,146.72 L312.50,148.71 L313.50,150.93 L314.50,153.36 L315.50,155.99 L316.50,158.80 L317.50,161.78 L318.50,164.89 L319.50,168.12 L320.50,171.46 L321.50,174.87 L322.50,178.35 L323.50,181.87 L324.50,185.42 L325.50,188.99 L326.50,192.56 L327.50,196.11 L328.50,199.63 L329.50,203.12 L330.50,206.55 L331.50,209.93 L332.50,213.23 L333.50,216.46 L334.50,219.59 L335.50,222.64 L336.50,225.58 L337.50,228.41 L338.50,231.14 L339.50,233.75 L340.50,236.25 L341.50,238.66 L342.50,240.98 L343.50,243.20 L344.50,245.33 L345.50,247.37 L346.50,249.31 L347.50,251.16 L348.50,252.92 L349.50,254.59 L350.50,256.17 L351.50,257.65 L352.50,259.05 L353.50,260.37 L354.50,261.63 L355.50,262.84 L356.50,264.00 L357.50,265.11 L358.50,266.17 L359.50,267.18 L360.50,268.15 L361.50,269.07 L362.50,269.95 L363.50,270.77 L364.50,271.56 L365.50,272.29 L366.50,272.97 L367.50,273.60 L368.50,274.19 L369.50,274.76 L370.50,275.30 L371.50,275.85 L372.50,276.40 L373.50,276.97 L374.50,277.56 L375.50,278.20 L376.50,278.88 L377.50,279.60 L378.50,280.33 L379.50,281.07 L380.50,281.79 L381.50,282.48 L382.50,283.15 L383.50,283.83 L384.50,284.52 L385.50,285.19 L386.50,285.81 L387.50,286.38 L388.50,286.86 L389.50,287.25 L390.50,287.62 L391.50,287.96 L392.50,288.27 L393.50,288.55 L394.50,288.78 L395.50,288.97 L396.50,289.12 L397.50,289.25 L398.50,289.37 L399.50,289.48 L400.50,289.59 L401.50,289.68 L402.50,289.77 L403.50,289.85 L404.50,289.93 L405.50,290.01 L406.50,290.08 L407.50,290.16 L408.50,290.24 L409.50,290.32 L410.50,290.41 L411.50,290.50 L412.50,290.58 L413.50,290.67 L414.50,290.75 L415.50,290.84 L416.50,290.91 L417.50,290.98 L418.50,291.05 L419.50,291.11 L420.50,291.16 L421.50,291.21 L422.50,291.26 L423.50,291.31 L424.50,291.35 L425.50,291.39 L426.50,291.43 L427.50,291.47 L428.50,291.51 L429.50,291.55 L430.50,291.59 L431.50,291.62 L432.50,291.65 L433.50,291.68 L434.50,291.71 L435.50,291.74 L436.50,291.77 L437.50,291.80 L438.50,291.82 L439.50,291.84 L440.50,291.86 L441.50,291.89 L442.50,291.91 L443.50,291.93 L444.50,291.95 L445.50,291.97 L446.50,291.99 L447.50,292.01 L448.50,292.03 L449.50,292.05 L450.50,292.07 L451.50,292.09 L452.50,292.11 L453.50,292.13 L454.50,292.15 L455.50,292.17 L456.50,292.19 L457.50,292.21 L458.50,292.23 L459.50,292.25 L460.50,292.26 L461.50,292.28 L462.50,292.30 L463.50,292.32 L464.50,292.33 L465.50,292.35 L466.50,292.36 L467.50,292.38 L468.50,292.39 L469.50,292.41 L470.50,292.42 L471.50,292.43 L472.50,292.45 L473.50,292.46 L474.50,292.47 L475.50,292.48 L476.50,292.49 L477.50,292.50 L478.50,292.51 L479.50,292.52 L480.50,292.53 L481.50,292.54 L482.50,292.54 L483.50,292.55 L484.50,292.56 L485.50,292.56 L486.50,292.56 L487.50,292.57 L488.50,292.57 L489.50,292.57 L490.50,292.58" stroke="#1a2bc8" stroke-width="2.8" stroke-dasharray="10.5 12" stroke-dashoffset="16.55"/>
<path d="M92.50,177.40 L93.50,177.40 L94.50,177.40 L95.50,177.40 L96.50,177.40 L97.50,177.41 L98.50,177.41 L99.50,177.41 L100.50,177.41 L101.50,177.42 L102.50,177.42 L103.50,177.43 L104.50,177.43 L105.50,177.44 L106.50,177.44 L107.50,177.45 L108.50,177.45 L109.50,177.46 L110.50,177.46 L111.50,177.47 L112.50,177.48 L113.50,177.49 L114.50,177.49 L115.50,177.50 L116.50,177.51 L117.50,177.52 L118.50,177.53 L119.50,177.54 L120.50,177.55 L121.50,177.56 L122.50,177.57 L123.50,177.58 L124.50,177.59 L125.50,177.60 L126.50,177.61 L127.50,177.63 L128.50,177.64 L129.50,177.65 L130.50,177.66 L131.50,177.68 L132.50,177.69 L133.50,177.70 L134.50,177.72 L135.50,177.73 L136.50,177.75 L137.50,177.76 L138.50,177.78 L139.50,177.79 L140.50,177.81 L141.50,177.83 L142.50,177.85 L143.50,177.88 L144.50,177.92 L145.50,177.96 L146.50,178.00 L147.50,178.04 L148.50,178.09 L149.50,178.14 L150.50,178.20 L151.50,178.25 L152.50,178.31 L153.50,178.37 L154.50,178.43 L155.50,178.49 L156.50,178.55 L157.50,178.62 L158.50,178.68 L159.50,178.75 L160.50,178.82 L161.50,178.90 L162.50,178.98 L163.50,179.07 L164.50,179.16 L165.50,179.26 L166.50,179.35 L167.50,179.45 L168.50,179.55 L169.50,179.64 L170.50,179.74 L171.50,179.83 L172.50,179.93 L173.50,180.02 L174.50,180.12 L175.50,180.22 L176.50,180.32 L177.50,180.42 L178.50,180.52 L179.50,180.62 L180.50,180.73 L181.50,180.83 L182.50,180.93 L183.50,181.03 L184.50,181.14 L185.50,181.24 L186.50,181.34 L187.50,181.44 L188.50,181.54 L189.50,181.64 L190.50,181.74 L191.50,181.84 L192.50,181.94 L193.50,182.04 L194.50,182.15 L195.50,182.25 L196.50,182.37 L197.50,182.48 L198.50,182.61 L199.50,182.73 L200.50,182.87 L201.50,183.01 L202.50,183.17 L203.50,183.33 L204.50,183.50 L205.50,183.68 L206.50,183.86 L207.50,184.05 L208.50,184.24 L209.50,184.43 L210.50,184.62 L211.50,184.81 L212.50,185.00 L213.50,185.19 L214.50,185.38 L215.50,185.57 L216.50,185.77 L217.50,185.97 L218.50,186.17 L219.50,186.37 L220.50,186.57 L221.50,186.78 L222.50,186.98 L223.50,187.18 L224.50,187.38 L225.50,187.58 L226.50,187.78 L227.50,187.97 L228.50,188.16 L229.50,188.35 L230.50,188.55 L231.50,188.74 L232.50,188.94 L233.50,189.13 L234.50,189.34 L235.50,189.54 L236.50,189.76 L237.50,189.98 L238.50,190.21 L239.50,190.44 L240.50,190.69 L241.50,190.94 L242.50,191.20 L243.50,191.47 L244.50,191.73 L245.50,192.00 L246.50,192.26 L247.50,192.53 L248.50,192.79 L249.50,193.05 L250.50,193.30 L251.50,193.54 L252.50,193.78 L253.50,194.02 L254.50,194.25 L255.50,194.48 L256.50,194.71 L257.50,194.95 L258.50,195.19 L259.50,195.44 L260.50,195.69 L261.50,195.96 L262.50,196.24 L263.50,196.54 L264.50,196.84 L265.50,197.15 L266.50,197.48 L267.50,197.81 L268.50,198.15 L269.50,198.51 L270.50,198.87 L271.50,199.24 L272.50,199.62 L273.50,200.01 L274.50,200.41 L275.50,200.82 L276.50,201.25 L277.50,201.69 L278.50,202.15 L279.50,202.61 L280.50,203.10 L281.50,203.59 L282.50,204.09 L283.50,204.61 L284.50,205.13 L285.50,205.66 L286.50,206.19 L287.50,206.73 L288.50,207.28 L289.50,207.83 L290.50,208.37 L291.50,208.93 L292.50,209.49 L293.50,210.06 L294.50,210.63 L295.50,211.23 L296.50,211.83 L297.50,212.46 L298.50,213.10 L299.50,213.76 L300.50,214.45 L301.50,215.17 L302.50,215.92 L303.50,216.70 L304.50,217.50 L305.50,218.31 L306.50,219.15 L307.50,219.99 L308.50,220.83 L309.50,221.68 L310.50,222.52 L311.50,223.38 L312.50,224.26 L313.50,225.14 L314.50,226.03 L315.50,226.93 L316.50,227.84 L317.50,228.75 L318.50,229.65 L319.50,230.56 L320.50,231.46 L321.50,232.36 L322.50,233.25 L323.50,234.15 L324.50,235.05 L325.50,235.95 L326.50,236.86 L327.50,237.77 L328.50,238.70 L329.50,239.63 L330.50,240.58 L331.50,241.54 L332.50,242.52 L333.50,243.50 L334.50,244.49 L335.50,245.49 L336.50,246.49 L337.50,247.50 L338.50,248.50 L339.50,249.50 L340.50,250.50 L341.50,251.51 L342.50,252.53 L343.50,253.57 L344.50,254.60 L345.50,255.64 L346.50,256.67 L347.50,257.69 L348.50,258.70 L349.50,259.69 L350.50,260.67 L351.50,261.61 L352.50,262.52 L353.50,263.41 L354.50,264.29 L355.50,265.16 L356.50,266.03 L357.50,266.87 L358.50,267.71 L359.50,268.52 L360.50,269.32 L361.50,270.09 L362.50,270.83 L363.50,271.55 L364.50,272.24 L365.50,272.89 L366.50,273.50 L367.50,274.07 L368.50,274.61 L369.50,275.13 L370.50,275.64 L371.50,276.15 L372.50,276.67 L373.50,277.22 L374.50,277.80 L375.50,278.42 L376.50,279.08 L377.50,279.79 L378.50,280.51 L379.50,281.24 L380.50,281.95 L381.50,282.64 L382.50,283.30 L383.50,283.97 L384.50,284.66 L385.50,285.32 L386.50,285.94 L387.50,286.50 L388.50,286.98 L389.50,287.37 L390.50,287.74 L391.50,288.07 L392.50,288.38 L393.50,288.65 L394.50,288.88 L395.50,289.07 L396.50,289.22 L397.50,289.35 L398.50,289.47 L399.50,289.58 L400.50,289.68 L401.50,289.77 L402.50,289.86 L403.50,289.94 L404.50,290.02 L405.50,290.09 L406.50,290.17 L407.50,290.24 L408.50,290.32 L409.50,290.40 L410.50,290.48 L411.50,290.57 L412.50,290.66 L413.50,290.74 L414.50,290.82 L415.50,290.90 L416.50,290.98 L417.50,291.05 L418.50,291.12 L419.50,291.17 L420.50,291.22 L421.50,291.27 L422.50,291.32 L423.50,291.37 L424.50,291.41 L425.50,291.45 L426.50,291.49 L427.50,291.53 L428.50,291.57 L429.50,291.60 L430.50,291.64 L431.50,291.67 L432.50,291.70 L433.50,291.74 L434.50,291.76 L435.50,291.79 L436.50,291.82 L437.50,291.84 L438.50,291.87 L439.50,291.89 L440.50,291.91 L441.50,291.93 L442.50,291.95 L443.50,291.97 L444.50,291.99 L445.50,292.01 L446.50,292.03 L447.50,292.05 L448.50,292.07 L449.50,292.09 L450.50,292.11 L451.50,292.13 L452.50,292.15 L453.50,292.17 L454.50,292.19 L455.50,292.21 L456.50,292.23 L457.50,292.25 L458.50,292.27 L459.50,292.28 L460.50,292.30 L461.50,292.32 L462.50,292.33 L463.50,292.35 L464.50,292.37 L465.50,292.38 L466.50,292.40 L467.50,292.41 L468.50,292.42 L469.50,292.44 L470.50,292.45 L471.50,292.46 L472.50,292.48 L473.50,292.49 L474.50,292.50 L475.50,292.51 L476.50,292.52 L477.50,292.53 L478.50,292.54 L479.50,292.55 L480.50,292.56 L481.50,292.56 L482.50,292.57 L483.50,292.58 L484.50,292.58 L485.50,292.59 L486.50,292.59 L487.50,292.59 L488.50,292.60 L489.50,292.60 L490.50,292.60" stroke="#182040" stroke-width="1.8" stroke-opacity="0.85"/>
</g>
<g fill="#1c1c1c">
<rect x="95.3" y="170.2" width="2.2" height="2.2"/>
<rect x="105.7" y="187.8" width="2.2" height="2.2"/>
<rect x="108.1" y="180.0" width="2.2" height="2.2"/>
<rect x="110.1" y="171.2" width="2.2" height="2.2"/>
<rect x="119.1" y="173.1" width="2.2" height="2.2"/>
<rect x="127.9" y="171.7" width="2.2" height="2.2"/>
<rect x="130.4" y="170.5" width="2.2" height="2.2"/>
<rect x="132.9" y="167.1" width="2.2" height="2.2"/>
<rect x="135.4" y="160.4" width="2.2" height="2.2"/>
<rect x="137.9" y="170.5" width="2.2" height="2.2"/>
<rect x="140.4" y="170.5" width="2.2" height="2.2"/>
<rect x="149.8" y="164.6" width="2.2" height="2.2"/>
<rect x="91.4" y="183.4" width="2.2" height="2.2"/>
<rect x="150.8" y="164.6" width="2.2" height="2.2"/>
<rect x="152.7" y="165.9" width="2.2" height="2.2"/>
<rect x="155.2" y="160.2" width="2.2" height="2.2"/>
<rect x="157.7" y="167.7" width="2.2" height="2.2"/>
<rect x="160.2" y="169.6" width="2.2" height="2.2"/>
<rect x="162.7" y="165.9" width="2.2" height="2.2"/>
<rect x="165.2" y="159.0" width="2.2" height="2.2"/>
<rect x="167.7" y="164.6" width="2.2" height="2.2"/>
<rect x="170.8" y="162.7" width="2.2" height="2.2"/>
<rect x="173.3" y="159.6" width="2.2" height="2.2"/>
<rect x="175.8" y="154.0" width="2.2" height="2.2"/>
<rect x="180.9" y="161.7" width="2.2" height="2.2"/>
<rect x="182.7" y="162.7" width="2.2" height="2.2"/>
<rect x="185.9" y="160.2" width="2.2" height="2.2"/>
<rect x="188.4" y="156.7" width="2.2" height="2.2"/>
<rect x="190.3" y="157.1" width="2.2" height="2.2"/>
<rect x="194.0" y="158.3" width="2.2" height="2.2"/>
<rect x="197.1" y="151.5" width="2.2" height="2.2"/>
<rect x="200.3" y="152.7" width="2.2" height="2.2"/>
<rect x="205.3" y="143.3" width="2.2" height="2.2"/>
<rect x="207.8" y="147.7" width="2.2" height="2.2"/>
<rect x="202.8" y="161.5" width="2.2" height="2.2"/>
<rect x="210.8" y="157.7" width="2.2" height="2.2"/>
<rect x="213.3" y="155.2" width="2.2" height="2.2"/>
<rect x="216.4" y="154.0" width="2.2" height="2.2"/>
<rect x="219.6" y="152.5" width="2.2" height="2.2"/>
<rect x="222.7" y="149.6" width="2.2" height="2.2"/>
<rect x="225.2" y="145.2" width="2.2" height="2.2"/>
<rect x="230.2" y="148.0" width="2.2" height="2.2"/>
<rect x="232.1" y="148.0" width="2.2" height="2.2"/>
<rect x="237.7" y="140.2" width="2.2" height="2.2"/>
<rect x="240.2" y="149.0" width="2.2" height="2.2"/>
<rect x="243.4" y="153.4" width="2.2" height="2.2"/>
<rect x="245.9" y="133.7" width="2.2" height="2.2"/>
<rect x="248.4" y="137.1" width="2.2" height="2.2"/>
<rect x="250.9" y="144.0" width="2.2" height="2.2"/>
<rect x="262.1" y="132.0" width="2.2" height="2.2"/>
<rect x="266.9" y="131.9" width="2.2" height="2.2"/>
<rect x="315.8" y="54.7" width="2.2" height="2.2"/>
<rect x="323.2" y="62.6" width="2.2" height="2.2"/>
<rect x="327.7" y="60.3" width="2.2" height="2.2"/>
<rect x="332.3" y="62.2" width="2.2" height="2.2"/>
<rect x="340.6" y="67.1" width="2.2" height="2.2"/>
<rect x="342.9" y="67.1" width="2.2" height="2.2"/>
<rect x="345.4" y="62.2" width="2.2" height="2.2"/>
<rect x="321.0" y="72.8" width="2.2" height="2.2"/>
<rect x="348.1" y="76.1" width="2.2" height="2.2"/>
<rect x="350.3" y="79.5" width="2.2" height="2.2"/>
<rect x="356.0" y="91.9" width="2.2" height="2.2"/>
<rect x="358.2" y="99.9" width="2.2" height="2.2"/>
<rect x="305.2" y="87.0" width="2.2" height="2.2"/>
<rect x="302.9" y="94.9" width="2.2" height="2.2"/>
<rect x="307.4" y="94.9" width="2.2" height="2.2"/>
<rect x="293.9" y="94.9" width="2.2" height="2.2"/>
<rect x="288.2" y="98.7" width="2.2" height="2.2"/>
<rect x="286.0" y="110.7" width="2.2" height="2.2"/>
<rect x="281.5" y="109.3" width="2.2" height="2.2"/>
<rect x="277.0" y="116.8" width="2.2" height="2.2"/>
<rect x="345.9" y="61.9" width="2.2" height="2.2"/>
<rect x="341.9" y="67.9" width="2.2" height="2.2"/>
<rect x="348.9" y="74.9" width="2.2" height="2.2"/>
<rect x="356.0" y="92.0" width="2.2" height="2.2"/>
<rect x="358.0" y="100.1" width="2.2" height="2.2"/>
<rect x="362.0" y="110.1" width="2.2" height="2.2"/>
<rect x="365.0" y="122.2" width="2.2" height="2.2"/>
<rect x="367.0" y="130.2" width="2.2" height="2.2"/>
<rect x="370.0" y="137.2" width="2.2" height="2.2"/>
<rect x="374.9" y="159.0" width="2.2" height="2.2"/>
<rect x="380.9" y="163.0" width="2.2" height="2.2"/>
<rect x="383.0" y="176.0" width="2.2" height="2.2"/>
<rect x="386.0" y="180.1" width="2.2" height="2.2"/>
<rect x="391.0" y="209.2" width="2.2" height="2.2"/>
<rect x="305.2" y="87.2" width="2.2" height="2.2"/>
<rect x="302.2" y="93.9" width="2.2" height="2.2"/>
<rect x="308.2" y="94.4" width="2.2" height="2.2"/>
<rect x="288.7" y="98.4" width="2.2" height="2.2"/>
<rect x="281.2" y="108.9" width="2.2" height="2.2"/>
<rect x="285.7" y="110.4" width="2.2" height="2.2"/>
<rect x="276.7" y="115.7" width="2.2" height="2.2"/>
<rect x="271.4" y="123.9" width="2.2" height="2.2"/>
<rect x="263.2" y="131.5" width="2.2" height="2.2"/>
<rect x="260.2" y="130.7" width="2.2" height="2.2"/>
<rect x="359.4" y="99.9" width="2.2" height="2.2"/>
<rect x="365.4" y="120.9" width="2.2" height="2.2"/>
<rect x="367.5" y="131.5" width="2.2" height="2.2"/>
<rect x="369.9" y="138.9" width="2.2" height="2.2"/>
<rect x="375.9" y="158.6" width="2.2" height="2.2"/>
<rect x="385.0" y="179.7" width="2.2" height="2.2"/>
<rect x="390.6" y="208.2" width="2.2" height="2.2"/>
<rect x="391.9" y="227.5" width="2.2" height="2.2"/>
<rect x="416.8" y="281.2" width="2.2" height="2.2"/>
<rect x="423.6" y="293.6" width="2.2" height="2.2"/>
<rect x="431.9" y="283.9" width="2.2" height="2.2"/>
<rect x="447.1" y="283.9" width="2.2" height="2.2"/>
<rect x="417.7" y="281.8" width="2.2" height="2.2"/>
<rect x="420.8" y="284.6" width="2.2" height="2.2"/>
<rect x="423.3" y="294.6" width="2.2" height="2.2"/>
<rect x="425.8" y="291.5" width="2.2" height="2.2"/>
<rect x="431.5" y="285.2" width="2.2" height="2.2"/>
<rect x="433.3" y="285.8" width="2.2" height="2.2"/>
<rect x="438.3" y="287.1" width="2.2" height="2.2"/>
<rect x="440.9" y="292.1" width="2.2" height="2.2"/>
<rect x="442.7" y="302.1" width="2.2" height="2.2"/>
<rect x="445.2" y="288.3" width="2.2" height="2.2"/>
<rect x="448.0" y="284.0" width="2.2" height="2.2"/>
<rect x="450.3" y="299.6" width="2.2" height="2.2"/>
<rect x="453.4" y="292.7" width="2.2" height="2.2"/>
<rect x="455.9" y="298.4" width="2.2" height="2.2"/>
<rect x="459.0" y="294.0" width="2.2" height="2.2"/>
<rect x="465.9" y="294.0" width="2.2" height="2.2"/>
<rect x="468.4" y="289.0" width="2.2" height="2.2"/>
<rect x="471.6" y="294.6" width="2.2" height="2.2"/>
<rect x="473.4" y="301.5" width="2.2" height="2.2"/>
<rect x="477.2" y="287.7" width="2.2" height="2.2"/>
<rect x="480.9" y="282.1" width="2.2" height="2.2"/>
<rect x="483.1" y="283.7" width="2.2" height="2.2"/>
</g>
<path d="M91.50,177.40 C94.58,177.27 103.82,176.83 110.00,176.60 C116.18,176.37 123.60,176.22 128.60,176.00 C133.60,175.78 135.60,175.63 140.00,175.30 C144.40,174.97 150.00,174.53 155.00,174.00 C160.00,173.47 165.00,173.02 170.00,172.10 C175.00,171.18 180.00,169.58 185.00,168.50 C190.00,167.42 195.83,166.62 200.00,165.60 C204.17,164.58 206.67,163.53 210.00,162.40 C213.33,161.27 216.67,160.10 220.00,158.80 C223.33,157.50 226.65,156.35 230.00,154.60 C233.35,152.85 236.77,150.47 240.10,148.30 C243.43,146.13 247.18,143.65 250.00,141.60 C252.82,139.55 254.67,138.05 257.00,136.00 C259.33,133.95 261.83,131.28 264.00,129.30 C266.17,127.32 267.67,126.18 270.00,124.10 C272.33,122.02 274.75,120.15 278.00,116.80 C281.25,113.45 285.83,108.45 289.50,104.00 C293.17,99.55 296.58,94.67 300.00,90.10 C303.42,85.53 307.08,79.85 310.00,76.60 C312.92,73.35 315.50,71.97 317.50,70.60 C319.50,69.23 320.30,68.95 322.00,68.40 C323.70,67.85 325.03,67.12 327.70,67.30 C330.37,67.48 334.70,67.90 338.00,69.50 C341.30,71.10 344.73,74.05 347.50,76.90 C350.27,79.75 352.47,83.25 354.60,86.60 C356.73,89.95 358.57,93.27 360.30,97.00 C362.03,100.73 363.55,105.08 365.00,109.00 C366.45,112.92 367.83,116.67 369.00,120.50 C370.17,124.33 371.00,128.00 372.00,132.00 C373.00,136.00 374.00,140.33 375.00,144.50 C376.00,148.67 377.08,153.08 378.00,157.00 C378.92,160.92 379.67,164.17 380.50,168.00 C381.33,171.83 382.15,175.83 383.00,180.00 C383.85,184.17 384.55,188.00 385.60,193.00 C386.65,198.00 388.18,204.67 389.30,210.00 C390.42,215.33 391.30,220.00 392.30,225.00 C393.30,230.00 394.43,235.92 395.30,240.00 C396.17,244.08 396.80,246.67 397.50,249.50 C398.20,252.33 398.65,254.30 399.50,257.00 C400.35,259.70 401.40,262.75 402.60,265.70 C403.80,268.65 405.10,272.05 406.70,274.70 C408.30,277.35 410.13,279.65 412.20,281.60 C414.27,283.55 416.80,285.18 419.10,286.40 C421.40,287.62 423.35,288.30 426.00,288.90 C428.65,289.50 429.33,289.52 435.00,290.00 C440.67,290.48 450.67,291.33 460.00,291.80 C469.33,292.27 485.83,292.63 491.00,292.80" fill="none" stroke="#ec1c2a" stroke-width="3.2" stroke-linecap="round" stroke-linejoin="round"/>
<rect x="91.5" y="12.6" width="400.0" height="322.79999999999995" fill="none" stroke="#000" stroke-width="2.5"/>
<line x1="91.50" y1="334.40" x2="91.50" y2="338.20" stroke="#000" stroke-width="2.5" />
<line x1="466.78" y1="335.40" x2="466.78" y2="341.80" stroke="#000" stroke-width="2.2" />
<line x1="441.71" y1="335.40" x2="441.71" y2="339.00" stroke="#000" stroke-width="2" />
<line x1="416.64" y1="335.40" x2="416.64" y2="341.80" stroke="#000" stroke-width="2.2" />
<line x1="391.57" y1="335.40" x2="391.57" y2="339.00" stroke="#000" stroke-width="2" />
<line x1="366.50" y1="335.40" x2="366.50" y2="341.80" stroke="#000" stroke-width="2.2" />
<line x1="341.43" y1="335.40" x2="341.43" y2="339.00" stroke="#000" stroke-width="2" />
<line x1="316.36" y1="335.40" x2="316.36" y2="341.80" stroke="#000" stroke-width="2.2" />
<line x1="291.29" y1="335.40" x2="291.29" y2="339.00" stroke="#000" stroke-width="2" />
<line x1="266.22" y1="335.40" x2="266.22" y2="341.80" stroke="#000" stroke-width="2.2" />
<line x1="241.15" y1="335.40" x2="241.15" y2="339.00" stroke="#000" stroke-width="2" />
<line x1="216.08" y1="335.40" x2="216.08" y2="341.80" stroke="#000" stroke-width="2.2" />
<line x1="191.01" y1="335.40" x2="191.01" y2="339.00" stroke="#000" stroke-width="2" />
<line x1="165.94" y1="335.40" x2="165.94" y2="341.80" stroke="#000" stroke-width="2.2" />
<line x1="140.87" y1="335.40" x2="140.87" y2="339.00" stroke="#000" stroke-width="2" />
<line x1="115.80" y1="335.40" x2="115.80" y2="341.80" stroke="#000" stroke-width="2.2" />
<line x1="91.50" y1="310.38" x2="97.50" y2="310.38" stroke="#000" stroke-width="2.2" />
<line x1="91.50" y1="285.57" x2="94.50" y2="285.57" stroke="#000" stroke-width="2" />
<line x1="91.50" y1="260.75" x2="97.50" y2="260.75" stroke="#000" stroke-width="2.2" />
<line x1="91.50" y1="235.94" x2="94.50" y2="235.94" stroke="#000" stroke-width="2" />
<line x1="91.50" y1="211.12" x2="97.50" y2="211.12" stroke="#000" stroke-width="2.2" />
<line x1="91.50" y1="186.31" x2="94.50" y2="186.31" stroke="#000" stroke-width="2" />
<line x1="91.50" y1="161.49" x2="97.50" y2="161.49" stroke="#000" stroke-width="2.2" />
<line x1="91.50" y1="136.68" x2="94.50" y2="136.68" stroke="#000" stroke-width="2" />
<line x1="91.50" y1="111.86" x2="97.50" y2="111.86" stroke="#000" stroke-width="2.2" />
<line x1="91.50" y1="87.05" x2="94.50" y2="87.05" stroke="#000" stroke-width="2" />
<line x1="91.50" y1="62.23" x2="97.50" y2="62.23" stroke="#000" stroke-width="2.2" />
<line x1="91.50" y1="37.41" x2="94.50" y2="37.41" stroke="#000" stroke-width="2" />
<line x1="91.50" y1="12.60" x2="97.50" y2="12.60" stroke="#000" stroke-width="2.2" />
<text transform="translate(47.11,315.51) scale(0.9772,1)" font-size="17.18" font-weight="bold" fill="#000" stroke="#000" stroke-width="0.45" >2600</text>
<text transform="translate(47.11,265.88) scale(0.9772,1)" font-size="17.18" font-weight="bold" fill="#000" stroke="#000" stroke-width="0.45" >2800</text>
<text transform="translate(47.28,216.25) scale(0.9726,1)" font-size="17.18" font-weight="bold" fill="#000" stroke="#000" stroke-width="0.45" >3000</text>
<text transform="translate(47.28,166.62) scale(0.9726,1)" font-size="17.18" font-weight="bold" fill="#000" stroke="#000" stroke-width="0.45" >3200</text>
<text transform="translate(47.28,116.99) scale(0.9726,1)" font-size="17.18" font-weight="bold" fill="#000" stroke="#000" stroke-width="0.45" >3400</text>
<text transform="translate(47.28,67.36) scale(0.9726,1)" font-size="17.18" font-weight="bold" fill="#000" stroke="#000" stroke-width="0.45" >3600</text>
<text transform="translate(47.28,17.73) scale(0.9726,1)" font-size="17.18" font-weight="bold" fill="#000" stroke="#000" stroke-width="0.45" >3800</text>
<text transform="translate(453.26,359.14) scale(0.9770,1)" font-size="16.48" font-weight="bold" fill="#000" stroke="#000" stroke-width="0.45" >704</text>
<text transform="translate(403.10,359.14) scale(0.9954,1)" font-size="16.48" font-weight="bold" fill="#000" stroke="#000" stroke-width="0.45" >706</text>
<text transform="translate(352.96,359.14) scale(0.9923,1)" font-size="16.48" font-weight="bold" fill="#000" stroke="#000" stroke-width="0.45" >708</text>
<g transform="translate(302.82,359.14) scale(0.9986,1)"><text font-size="16.48" font-weight="bold" fill="#000" stroke="#000" stroke-width="0.45" >710</text><rect x="8.60" y="-2.98" width="4.31" height="4.78" fill="#fff"/><rect x="15.37" y="-2.98" width="4.20" height="4.78" fill="#fff"/><rect x="12.91" y="0.3" width="2.46" height="1.5" fill="#fff"/></g>
<g transform="translate(252.68,359.30) scale(0.9845,1)"><text font-size="16.71" font-weight="bold" fill="#000" stroke="#000" stroke-width="0.45" >712</text><rect x="8.75" y="-3.01" width="4.35" height="4.81" fill="#fff"/><rect x="15.59" y="-3.01" width="4.24" height="4.81" fill="#fff"/><rect x="13.10" y="0.3" width="2.49" height="1.5" fill="#fff"/></g>
<g transform="translate(202.56,359.30) scale(0.9494,1)"><text font-size="16.96" font-weight="bold" fill="#000" stroke="#000" stroke-width="0.45" >714</text><rect x="8.90" y="-3.03" width="4.39" height="4.83" fill="#fff"/><rect x="15.81" y="-3.03" width="4.27" height="4.83" fill="#fff"/><rect x="13.29" y="0.3" width="2.53" height="1.5" fill="#fff"/></g>
<g transform="translate(152.40,359.14) scale(0.9954,1)"><text font-size="16.48" font-weight="bold" fill="#000" stroke="#000" stroke-width="0.45" >716</text><rect x="8.60" y="-2.98" width="4.31" height="4.78" fill="#fff"/><rect x="15.37" y="-2.98" width="4.20" height="4.78" fill="#fff"/><rect x="12.91" y="0.3" width="2.46" height="1.5" fill="#fff"/></g>
<g transform="translate(102.26,359.14) scale(0.9923,1)"><text font-size="16.48" font-weight="bold" fill="#000" stroke="#000" stroke-width="0.45" >718</text><rect x="8.60" y="-2.98" width="4.31" height="4.78" fill="#fff"/><rect x="15.37" y="-2.98" width="4.20" height="4.78" fill="#fff"/><rect x="12.91" y="0.3" width="2.46" height="1.5" fill="#fff"/></g>
<g transform="translate(169.40,386.90) scale(1.0187,1)"><text font-size="26.96" font-weight="normal" fill="#000">Binding Energy (eV)</text></g>
<text transform="translate(25.20,259.69) rotate(-90) scale(0.9741,1)" font-size="28.41" font-weight="normal">Intensity (CPS)</text>
<text transform="translate(109.59,38.69) scale(0.9453,1)" font-size="24.81" font-weight="normal" fill="#000" >(a)</text>
<line x1="377.50" y1="57.50" x2="415.10" y2="57.50" stroke="#9ad88e" stroke-width="1.6" />
<line x1="376.90" y1="79.50" x2="415.00" y2="79.50" stroke="#1a26a8" stroke-width="2.8" stroke-dasharray="10.8 11.4"/>
<text transform="translate(419.69,63.61) scale(1.0561,1)" font-size="16.15" font-weight="bold" fill="#000" stroke="#000" stroke-width="0.45" >Fe(II)</text>
<text transform="translate(419.70,84.99) scale(1.0401,1)" font-size="16.26" font-weight="bold" fill="#000" stroke="#000" stroke-width="0.45" >Fe(III)</text>
<path d="M576.80,28.30 C577.03,35.25 577.78,58.05 578.20,70.00 C578.62,81.95 578.90,90.00 579.30,100.00 C579.70,110.00 580.15,120.83 580.60,130.00 C581.05,139.17 581.60,147.50 582.00,155.00 C582.40,162.50 582.62,168.33 583.00,175.00 C583.38,181.67 583.80,189.00 584.30,195.00 C584.80,201.00 585.45,205.50 586.00,211.00 C586.55,216.50 587.10,223.17 587.60,228.00 C588.10,232.83 588.50,236.33 589.00,240.00 C589.50,243.67 589.93,246.67 590.60,250.00 C591.27,253.33 592.10,256.67 593.00,260.00 C593.90,263.33 594.83,266.67 596.00,270.00 C597.17,273.33 598.50,276.67 600.00,280.00 C601.50,283.33 603.00,286.97 605.00,290.00 C607.00,293.03 609.47,295.82 612.00,298.20 C614.53,300.58 617.53,302.67 620.20,304.30 C622.87,305.93 625.37,306.97 628.00,308.00 C630.63,309.03 632.93,309.75 636.00,310.50 C639.07,311.25 641.12,311.78 646.40,312.50 C651.68,313.22 660.43,314.30 667.70,314.80 C674.97,315.30 682.62,315.33 690.00,315.50 C697.38,315.67 695.33,315.70 712.00,315.80 C728.67,315.90 748.42,316.02 790.00,316.10 C831.58,316.18 932.92,316.27 961.50,316.30" fill="none" stroke="#000" stroke-width="4" stroke-linecap="round" stroke-linejoin="round"/>
<rect x="561.1" y="10.4" width="406.5" height="327.3" fill="none" stroke="#000" stroke-width="2.4"/>
<line x1="561.10" y1="336.70" x2="561.10" y2="339.50" stroke="#000" stroke-width="2.4" />
<line x1="598.40" y1="337.70" x2="598.40" y2="332.20" stroke="#000" stroke-width="2.2" />
<line x1="644.85" y1="337.70" x2="644.85" y2="334.60" stroke="#000" stroke-width="2" />
<line x1="691.30" y1="337.70" x2="691.30" y2="332.20" stroke="#000" stroke-width="2.2" />
<line x1="737.75" y1="337.70" x2="737.75" y2="334.60" stroke="#000" stroke-width="2" />
<line x1="784.20" y1="337.70" x2="784.20" y2="332.20" stroke="#000" stroke-width="2.2" />
<line x1="830.65" y1="337.70" x2="830.65" y2="334.60" stroke="#000" stroke-width="2" />
<line x1="877.10" y1="337.70" x2="877.10" y2="332.20" stroke="#000" stroke-width="2.2" />
<line x1="923.55" y1="337.70" x2="923.55" y2="334.60" stroke="#000" stroke-width="2" />
<line x1="561.10" y1="338.55" x2="564.10" y2="338.55" stroke="#000" stroke-width="2" />
<line x1="561.10" y1="316.40" x2="567.10" y2="316.40" stroke="#000" stroke-width="2.2" />
<line x1="561.10" y1="294.25" x2="564.10" y2="294.25" stroke="#000" stroke-width="2" />
<line x1="561.10" y1="272.10" x2="567.10" y2="272.10" stroke="#000" stroke-width="2.2" />
<line x1="561.10" y1="249.95" x2="564.10" y2="249.95" stroke="#000" stroke-width="2" />
<line x1="561.10" y1="227.80" x2="567.10" y2="227.80" stroke="#000" stroke-width="2.2" />
<line x1="561.10" y1="205.65" x2="564.10" y2="205.65" stroke="#000" stroke-width="2" />
<line x1="561.10" y1="183.50" x2="567.10" y2="183.50" stroke="#000" stroke-width="2.2" />
<line x1="561.10" y1="161.35" x2="564.10" y2="161.35" stroke="#000" stroke-width="2" />
<line x1="561.10" y1="139.20" x2="567.10" y2="139.20" stroke="#000" stroke-width="2.2" />
<line x1="561.10" y1="117.05" x2="564.10" y2="117.05" stroke="#000" stroke-width="2" />
<line x1="561.10" y1="94.90" x2="567.10" y2="94.90" stroke="#000" stroke-width="2.2" />
<line x1="561.10" y1="72.75" x2="564.10" y2="72.75" stroke="#000" stroke-width="2" />
<line x1="561.10" y1="50.60" x2="567.10" y2="50.60" stroke="#000" stroke-width="2.2" />
<line x1="561.10" y1="28.45" x2="564.10" y2="28.45" stroke="#000" stroke-width="2" />
<text transform="translate(542.71,322.01) scale(1.0182,1)" font-size="19.44" font-weight="bold" fill="#000" stroke="#000" stroke-width="0.45" >0</text>
<text transform="translate(542.81,277.90) scale(0.9934,1)" font-size="19.71" font-weight="bold" fill="#000" stroke="#000" stroke-width="0.45" >2</text>
<text transform="translate(543.24,233.60) scale(0.8785,1)" font-size="20.00" font-weight="bold" fill="#000" stroke="#000" stroke-width="0.45" >4</text>
<text transform="translate(542.82,189.11) scale(0.9972,1)" font-size="19.44" font-weight="bold" fill="#000" stroke="#000" stroke-width="0.45" >6</text>
<text transform="translate(542.93,144.81) scale(0.9770,1)" font-size="19.44" font-weight="bold" fill="#000" stroke="#000" stroke-width="0.45" >8</text>
<g transform="translate(532.03,100.51) scale(1.0034,1)"><text font-size="19.44" font-weight="bold" fill="#000" stroke="#000" stroke-width="0.45" >10</text><rect x="-0.38" y="-3.28" width="4.81" height="5.08" fill="#fff"/><rect x="7.30" y="-3.28" width="4.67" height="5.08" fill="#fff"/><rect x="4.44" y="0.3" width="2.87" height="1.5" fill="#fff"/></g>
<g transform="translate(532.03,56.40) scale(0.9893,1)"><text font-size="19.71" font-weight="bold" fill="#000" stroke="#000" stroke-width="0.45" >12</text><rect x="-0.36" y="-3.31" width="4.86" height="5.11" fill="#fff"/><rect x="7.41" y="-3.31" width="4.71" height="5.11" fill="#fff"/><rect x="4.50" y="0.3" width="2.90" height="1.5" fill="#fff"/></g>
<g transform="translate(583.06,359.22) scale(1.0377,1)"><text font-size="17.61" font-weight="bold" fill="#000" stroke="#000" stroke-width="0.45" >150</text><rect x="-0.49" y="-3.10" width="4.50" height="4.90" fill="#fff"/><rect x="6.62" y="-3.10" width="4.38" height="4.90" fill="#fff"/><rect x="4.01" y="0.3" width="2.62" height="1.5" fill="#fff"/></g>
<text transform="translate(676.52,359.22) scale(1.0181,1)" font-size="17.61" font-weight="bold" fill="#000" stroke="#000" stroke-width="0.45" >200</text>
<text transform="translate(769.42,359.22) scale(1.0181,1)" font-size="17.61" font-weight="bold" fill="#000" stroke="#000" stroke-width="0.45" >250</text>
<text transform="translate(862.50,359.22) scale(1.0117,1)" font-size="17.61" font-weight="bold" fill="#000" stroke="#000" stroke-width="0.45" >300</text>
<g transform="translate(649.37,389.50) scale(0.9943,1)"><text font-size="31.59" font-weight="normal" fill="#000">Temperature (K)</text></g>
<text transform="translate(527.80,339.16) rotate(-90) scale(1.0116,1)" font-size="31.59" font-weight="normal">Resistivity</text>
<text transform="translate(604.08,38.52) scale(0.9816,1)" font-size="24.17" font-weight="normal" fill="#000" >(b)</text>
<g transform="translate(527.93,185.70) rotate(-90) scale(0.8545,1)"><text font-size="13.69" font-weight="normal">(</text></g>
<g transform="translate(526.09,179.98) rotate(-90) scale(0.8933,1)"><text font-size="21.43" font-weight="normal">*</text></g>
<g transform="translate(527.68,171.68) rotate(-90) scale(1.0266,1)"><text font-size="21.83" font-weight="normal">10</text><rect x="0.06" y="-2.93" width="5.33" height="4.73" fill="#fff"/><rect x="7.52" y="-2.93" width="5.26" height="4.73" fill="#fff"/><rect x="5.39" y="0.3" width="2.13" height="1.5" fill="#fff"/></g>
<g transform="translate(521.19,146.92) rotate(-90) scale(0.9541,1)"><text font-size="21.41" font-weight="normal">8</text></g>
<text transform="translate(527.90,135.12) rotate(-90) scale(1.0705,1)" font-size="21.50" font-weight="normal">ohm.mm</text>
<g transform="translate(526.43,46.65) rotate(-90) scale(1.0957,1)"><text font-size="13.69" font-weight="normal">)</text></g>
<line x1="721.5" y1="227.9" x2="906.6" y2="60.6" stroke="#d81838" stroke-width="2.8"/>
<path d="M697.30,241.60 C697.92,241.17 699.50,239.93 701.00,239.00 C702.50,238.07 704.47,237.07 706.30,236.00 C708.13,234.93 709.83,233.83 712.00,232.60 C714.17,231.37 717.00,230.13 719.30,228.60 C721.60,227.07 724.72,224.27 725.80,223.40" fill="none" stroke="#000" stroke-width="2.8" stroke-linecap="round"/>
<path d="M719.30,228.60 C720.38,227.73 722.53,226.23 725.80,223.40 C729.07,220.57 734.02,215.95 738.90,211.60 C743.78,207.25 749.92,201.93 755.10,197.30 C760.28,192.67 764.18,189.08 770.00,183.80 C775.82,178.52 783.33,171.63 790.00,165.60 C796.67,159.57 803.33,153.62 810.00,147.60 C816.67,141.58 823.33,135.57 830.00,129.50 C836.67,123.43 844.57,116.18 850.00,111.20 C855.43,106.22 858.53,103.33 862.60,99.60 C866.67,95.87 872.43,90.60 874.40,88.80" fill="none" stroke="#000" stroke-opacity="0.9" stroke-width="1.9" stroke-dasharray="3 1.3 2 1.6" stroke-linejoin="round"/>
<path d="M874.40,88.80 C876.18,87.23 881.43,82.80 885.10,79.40 C888.77,76.00 893.00,72.27 896.40,68.40 C899.80,64.53 903.32,59.52 905.50,56.20 C907.68,52.88 908.50,50.62 909.50,48.50 C910.50,46.38 910.65,44.90 911.50,43.50 C912.35,42.10 913.48,41.55 914.60,40.10 C915.72,38.65 917.60,35.68 918.20,34.80" fill="none" stroke="#000" stroke-width="1.9" stroke-linecap="round" stroke-linejoin="round"/>
<path d="M896.40,68.40 C897.92,66.37 903.32,59.52 905.50,56.20 C907.68,52.88 908.50,50.62 909.50,48.50 C910.50,46.38 910.65,44.90 911.50,43.50 C912.35,42.10 913.48,41.55 914.60,40.10 C915.72,38.65 917.60,35.68 918.20,34.80" fill="none" stroke="#000" stroke-width="3.2" stroke-linecap="round" stroke-linejoin="round"/>
<rect x="683.4" y="24.3" width="268.0" height="216.89999999999998" fill="none" stroke="#000" stroke-width="1.8"/>
<line x1="703.20" y1="241.20" x2="703.20" y2="236.20" stroke="#000" stroke-width="1.8" />
<line x1="728.57" y1="241.20" x2="728.57" y2="238.20" stroke="#000" stroke-width="1.6" />
<line x1="753.93" y1="241.20" x2="753.93" y2="236.20" stroke="#000" stroke-width="1.8" />
<line x1="779.30" y1="241.20" x2="779.30" y2="238.20" stroke="#000" stroke-width="1.6" />
<line x1="804.66" y1="241.20" x2="804.66" y2="236.20" stroke="#000" stroke-width="1.8" />
<line x1="830.02" y1="241.20" x2="830.02" y2="238.20" stroke="#000" stroke-width="1.6" />
<line x1="855.39" y1="241.20" x2="855.39" y2="236.20" stroke="#000" stroke-width="1.8" />
<line x1="880.76" y1="241.20" x2="880.76" y2="238.20" stroke="#000" stroke-width="1.6" />
<line x1="906.12" y1="241.20" x2="906.12" y2="236.20" stroke="#000" stroke-width="1.8" />
<line x1="931.49" y1="241.20" x2="931.49" y2="238.20" stroke="#000" stroke-width="1.6" />
<line x1="683.40" y1="230.98" x2="686.40" y2="230.98" stroke="#000" stroke-width="1.6" />
<line x1="683.40" y1="211.26" x2="688.40" y2="211.26" stroke="#000" stroke-width="1.8" />
<line x1="683.40" y1="191.54" x2="686.40" y2="191.54" stroke="#000" stroke-width="1.6" />
<line x1="683.40" y1="171.82" x2="688.40" y2="171.82" stroke="#000" stroke-width="1.8" />
<line x1="683.40" y1="152.10" x2="686.40" y2="152.10" stroke="#000" stroke-width="1.6" />
<line x1="683.40" y1="132.38" x2="688.40" y2="132.38" stroke="#000" stroke-width="1.8" />
<line x1="683.40" y1="112.66" x2="686.40" y2="112.66" stroke="#000" stroke-width="1.6" />
<line x1="683.40" y1="92.94" x2="688.40" y2="92.94" stroke="#000" stroke-width="1.8" />
<line x1="683.40" y1="73.22" x2="686.40" y2="73.22" stroke="#000" stroke-width="1.6" />
<line x1="683.40" y1="53.50" x2="688.40" y2="53.50" stroke="#000" stroke-width="1.8" />
<line x1="683.40" y1="33.78" x2="686.40" y2="33.78" stroke="#000" stroke-width="1.6" />
<g transform="translate(657.51,217.81) scale(1.0091,1)"><text font-size="18.14" font-weight="bold" fill="#000" stroke="#000" stroke-width="0.45" >12</text><rect x="-0.46" y="-3.15" width="4.59" height="4.95" fill="#fff"/><rect x="6.82" y="-3.15" width="4.46" height="4.95" fill="#fff"/><rect x="4.13" y="0.3" width="2.69" height="1.5" fill="#fff"/></g>
<g transform="translate(657.55,178.37) scale(0.9612,1)"><text font-size="18.41" font-weight="bold" fill="#000" stroke="#000" stroke-width="0.45" >14</text><rect x="-0.44" y="-3.18" width="4.64" height="4.98" fill="#fff"/><rect x="6.92" y="-3.18" width="4.50" height="4.98" fill="#fff"/><rect x="4.20" y="0.3" width="2.73" height="1.5" fill="#fff"/></g>
<g transform="translate(657.52,138.75) scale(1.0185,1)"><text font-size="17.89" font-weight="bold" fill="#000" stroke="#000" stroke-width="0.45" >16</text><rect x="-0.47" y="-3.13" width="4.55" height="4.93" fill="#fff"/><rect x="6.73" y="-3.13" width="4.42" height="4.93" fill="#fff"/><rect x="4.07" y="0.3" width="2.65" height="1.5" fill="#fff"/></g>
<g transform="translate(657.52,99.31) scale(1.0135,1)"><text font-size="17.89" font-weight="bold" fill="#000" stroke="#000" stroke-width="0.45" >18</text><rect x="-0.47" y="-3.13" width="4.55" height="4.93" fill="#fff"/><rect x="6.73" y="-3.13" width="4.42" height="4.93" fill="#fff"/><rect x="4.07" y="0.3" width="2.65" height="1.5" fill="#fff"/></g>
<text transform="translate(658.08,59.87) scale(0.9939,1)" font-size="17.89" font-weight="bold" fill="#000" stroke="#000" stroke-width="0.45" >20</text>
<text transform="translate(684.09,257.75) scale(0.9848,1)" font-size="15.49" font-weight="bold" fill="#000" stroke="#000" stroke-width="0.45" >0.003</text>
<text transform="translate(734.83,257.75) scale(0.9728,1)" font-size="15.49" font-weight="bold" fill="#000" stroke="#000" stroke-width="0.45" >0.004</text>
<text transform="translate(785.55,257.75) scale(0.9808,1)" font-size="15.49" font-weight="bold" fill="#000" stroke="#000" stroke-width="0.45" >0.005</text>
<text transform="translate(836.28,257.75) scale(0.9848,1)" font-size="15.49" font-weight="bold" fill="#000" stroke="#000" stroke-width="0.45" >0.006</text>
<text transform="translate(887.01,257.75) scale(0.9889,1)" font-size="15.49" font-weight="bold" fill="#000" stroke="#000" stroke-width="0.45" >0.007</text>
<text transform="translate(646.20,163.09) rotate(-90) scale(1.0544,1)" font-size="21.74" font-weight="bold">Ln</text>
<text transform="translate(646.80,133.47) rotate(-90) scale(1.1763,1)" font-size="16.50" font-weight="bold">(ρ)</text>
<g transform="translate(761.06,284.30) scale(1.0191,1)"><text font-size="24.78" font-weight="bold" fill="#000">1/T</text><rect x="-0.04" y="-3.83" width="5.72" height="5.63" fill="#fff"/><rect x="9.28" y="-3.83" width="5.51" height="5.63" fill="#fff"/><rect x="5.68" y="0.3" width="3.60" height="1.5" fill="#fff"/></g>
<text transform="translate(797.21,284.00) scale(0.9168,1)" font-size="27.17" font-weight="normal" fill="#000" >(</text>
<g transform="translate(805.03,284.30) scale(1.1099,1)"><text font-size="23.19" font-weight="bold" fill="#000">K</text></g>
<text transform="translate(824.25,276.60) scale(1.0510,1)" font-size="25.00" font-weight="bold" fill="#000" stroke="#000" stroke-width="0.45" >-</text>
<g transform="translate(834.0,276.3) scale(0.80,1)"><text font-size="21.5" font-weight="bold" stroke="#000" stroke-width="0.5">1</text><rect x="-0.25" y="-3.49" width="5.16" height="5.29" fill="#fff"/><rect x="8.07" y="-3.49" width="4.99" height="5.29" fill="#fff"/><rect x="4.92" y="0.3" width="3.15" height="1.5" fill="#fff"/></g>
<text transform="translate(845.05,284.00) scale(0.9344,1)" font-size="27.17" font-weight="normal" fill="#000" >)</text>
</svg>
</body></html>
